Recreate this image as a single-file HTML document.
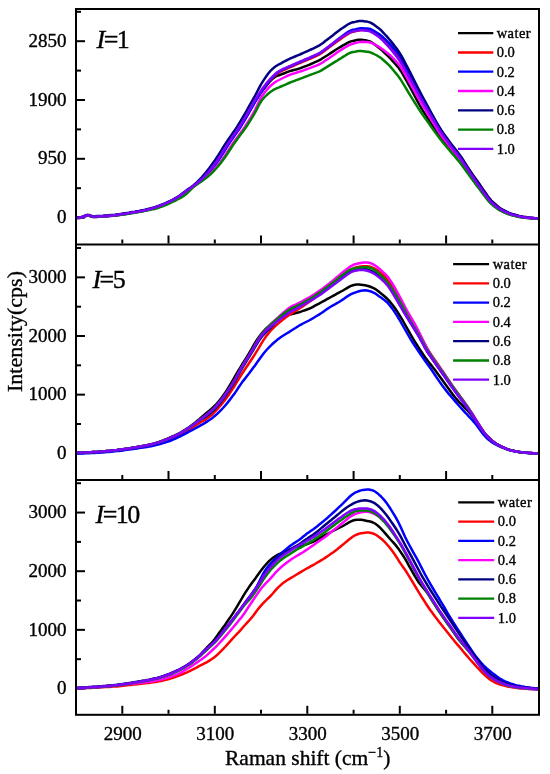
<!DOCTYPE html>
<html><head><meta charset="utf-8"><style>
html,body{margin:0;padding:0;background:#fff;}
svg{display:block;}
text{font-family:"Liberation Serif","Times New Roman",serif;fill:#000;stroke:#000;stroke-width:0.35px;}
.tl{font-size:19px;}
.lg{font-size:14.5px;}
.pl{font-size:26px;letter-spacing:-1.5px;}
.ti{font-size:21.5px;}
.ti2{font-size:22px;}
</style></head><body>
<svg width="550" height="774" viewBox="0 0 550 774">
<defs>
<clipPath id="c0"><rect x="77.0" y="10.0" width="461.0" height="233.5"/></clipPath>
<clipPath id="c1"><rect x="77.0" y="245.5" width="461.0" height="233.5"/></clipPath>
<clipPath id="c2"><rect x="77.0" y="481.0" width="461.0" height="232.8"/></clipPath>
</defs>
<g stroke="#000" stroke-width="2" fill="none">
<line x1="77" x2="85.0" y1="217.60" y2="217.60"/>
<line x1="77" x2="81.0" y1="188.20" y2="188.20"/>
<line x1="77" x2="85.0" y1="158.80" y2="158.80"/>
<line x1="77" x2="81.0" y1="129.40" y2="129.40"/>
<line x1="77" x2="85.0" y1="100.00" y2="100.00"/>
<line x1="77" x2="81.0" y1="70.60" y2="70.60"/>
<line x1="77" x2="85.0" y1="41.20" y2="41.20"/>
<line x1="77" x2="81.0" y1="11.80" y2="11.80"/>
<line x1="122.3" x2="122.3" y1="243.5" y2="239.5"/>
<line x1="168.5" x2="168.5" y1="243.5" y2="235.5"/>
<line x1="214.8" x2="214.8" y1="243.5" y2="239.5"/>
<line x1="261.0" x2="261.0" y1="243.5" y2="235.5"/>
<line x1="307.3" x2="307.3" y1="243.5" y2="239.5"/>
<line x1="353.6" x2="353.6" y1="243.5" y2="235.5"/>
<line x1="399.8" x2="399.8" y1="243.5" y2="239.5"/>
<line x1="446.1" x2="446.1" y1="243.5" y2="235.5"/>
<line x1="492.3" x2="492.3" y1="243.5" y2="239.5"/>
<line x1="77" x2="85.0" y1="453.30" y2="453.30"/>
<line x1="77" x2="81.0" y1="423.98" y2="423.98"/>
<line x1="77" x2="85.0" y1="394.65" y2="394.65"/>
<line x1="77" x2="81.0" y1="365.33" y2="365.33"/>
<line x1="77" x2="85.0" y1="336.00" y2="336.00"/>
<line x1="77" x2="81.0" y1="306.68" y2="306.68"/>
<line x1="77" x2="85.0" y1="277.35" y2="277.35"/>
<line x1="77" x2="81.0" y1="248.03" y2="248.03"/>
<line x1="122.3" x2="122.3" y1="479.0" y2="475.0"/>
<line x1="168.5" x2="168.5" y1="479.0" y2="471.0"/>
<line x1="214.8" x2="214.8" y1="479.0" y2="475.0"/>
<line x1="261.0" x2="261.0" y1="479.0" y2="471.0"/>
<line x1="307.3" x2="307.3" y1="479.0" y2="475.0"/>
<line x1="353.6" x2="353.6" y1="479.0" y2="471.0"/>
<line x1="399.8" x2="399.8" y1="479.0" y2="475.0"/>
<line x1="446.1" x2="446.1" y1="479.0" y2="471.0"/>
<line x1="492.3" x2="492.3" y1="479.0" y2="475.0"/>
<line x1="77" x2="85.0" y1="688.50" y2="688.50"/>
<line x1="77" x2="81.0" y1="659.17" y2="659.17"/>
<line x1="77" x2="85.0" y1="629.85" y2="629.85"/>
<line x1="77" x2="81.0" y1="600.52" y2="600.52"/>
<line x1="77" x2="85.0" y1="571.20" y2="571.20"/>
<line x1="77" x2="81.0" y1="541.88" y2="541.88"/>
<line x1="77" x2="85.0" y1="512.55" y2="512.55"/>
<line x1="77" x2="81.0" y1="483.23" y2="483.23"/>
<line x1="122.3" x2="122.3" y1="713.8" y2="705.8"/>
<line x1="168.5" x2="168.5" y1="713.8" y2="709.8"/>
<line x1="214.8" x2="214.8" y1="713.8" y2="705.8"/>
<line x1="261.0" x2="261.0" y1="713.8" y2="709.8"/>
<line x1="307.3" x2="307.3" y1="713.8" y2="705.8"/>
<line x1="353.6" x2="353.6" y1="713.8" y2="709.8"/>
<line x1="399.8" x2="399.8" y1="713.8" y2="705.8"/>
<line x1="446.1" x2="446.1" y1="713.8" y2="709.8"/>
<line x1="492.3" x2="492.3" y1="713.8" y2="705.8"/>
</g>
<g fill="none" stroke-width="2.5" stroke-linejoin="round" stroke-linecap="butt" clip-path="url(#c0)"><path d="M77.0,217.7 79.0,217.6 81.0,217.4 83.0,216.9 85.0,216.0 87.0,215.2 89.0,215.3 91.0,216.1 93.0,216.6 95.0,216.6 97.0,216.5 99.0,216.4 101.0,216.3 103.0,216.2 105.0,216.0 107.0,215.9 109.0,215.7 111.0,215.5 113.0,215.4 115.0,215.2 117.0,214.9 119.0,214.6 121.0,214.3 123.0,214.0 125.0,213.7 127.0,213.4 129.0,213.1 131.0,212.7 133.0,212.4 135.0,212.1 137.0,211.7 139.0,211.4 141.0,211.0 143.0,210.6 145.0,210.2 147.0,209.7 149.0,209.2 151.0,208.7 153.0,208.1 155.0,207.5 157.0,206.8 159.0,206.1 161.0,205.3 163.0,204.5 165.0,203.7 167.0,202.8 169.0,201.9 171.0,200.9 173.0,199.9 175.0,198.8 177.0,197.7 179.0,196.4 181.0,195.1 183.0,193.6 185.0,192.1 187.0,190.6 189.0,189.2 191.0,187.8 193.0,186.4 195.0,184.8 197.0,183.3 199.0,181.7 201.0,180.0 203.0,178.2 205.0,176.3 207.0,174.1 209.0,171.8 211.0,169.4 213.0,166.9 215.0,164.3 217.0,161.6 219.0,158.7 221.0,155.7 223.0,152.5 225.0,149.2 227.0,146.0 229.0,142.8 231.0,139.9 233.0,137.0 235.0,134.2 237.0,131.4 239.0,128.5 241.0,125.3 243.0,122.1 245.0,118.7 247.0,115.2 249.0,111.7 251.0,108.2 253.0,104.7 255.0,101.3 257.0,98.2 259.0,95.4 261.0,92.7 263.0,90.1 265.0,87.5 267.0,84.9 269.0,82.5 271.0,80.3 273.0,78.4 275.0,77.0 277.0,76.0 279.0,75.2 281.0,74.5 283.0,73.7 285.0,73.0 287.0,72.2 289.0,71.4 291.0,70.8 293.0,70.2 295.0,69.7 297.0,69.2 299.0,68.6 301.0,68.0 303.0,67.2 305.0,66.4 307.0,65.7 309.0,64.9 311.0,64.0 313.0,63.1 315.0,62.2 317.0,61.3 319.0,60.4 321.0,59.3 323.0,58.0 325.0,56.7 327.0,55.5 329.0,54.2 331.0,52.9 333.0,51.6 335.0,50.3 337.0,49.0 339.0,47.8 341.0,46.6 343.0,45.4 345.0,44.3 347.0,43.2 349.0,42.2 351.0,41.4 353.0,40.9 355.0,40.5 357.0,40.1 359.0,39.8 361.0,39.8 363.0,40.0 365.0,40.3 367.0,40.6 369.0,41.1 371.0,42.0 373.0,43.3 375.0,44.8 377.0,46.3 379.0,47.9 381.0,49.6 383.0,51.4 385.0,53.3 387.0,55.2 389.0,57.1 391.0,59.2 393.0,61.4 395.0,63.6 397.0,65.9 399.0,68.3 401.0,71.2 403.0,74.6 405.0,78.1 407.0,81.7 409.0,85.3 411.0,88.9 413.0,92.7 415.0,96.5 417.0,100.3 419.0,104.0 421.0,107.5 423.0,110.8 425.0,114.0 427.0,117.2 429.0,120.3 431.0,123.4 433.0,126.4 435.0,129.3 437.0,132.3 439.0,135.1 441.0,137.8 443.0,140.4 445.0,142.8 447.0,145.3 449.0,147.7 451.0,150.1 453.0,152.4 455.0,154.8 457.0,157.1 459.0,159.5 461.0,162.1 463.0,165.0 465.0,168.0 467.0,171.0 469.0,173.9 471.0,176.8 473.0,179.5 475.0,182.2 477.0,184.9 479.0,187.6 481.0,190.3 483.0,192.9 485.0,195.6 487.0,198.2 489.0,200.6 491.0,202.8 493.0,204.5 495.0,206.2 497.0,207.8 499.0,209.3 501.0,210.6 503.0,211.6 505.0,212.4 507.0,213.3 509.0,214.1 511.0,214.8 513.0,215.3 515.0,215.8 517.0,216.3 519.0,216.7 521.0,217.1 523.0,217.4 525.0,217.6 527.0,217.8 529.0,218.0 531.0,218.2 533.0,218.4 535.0,218.5 537.0,218.7 539.0,218.7" stroke="#000000"/><path d="M77.0,218.0 79.0,217.9 81.0,217.7 83.0,217.2 85.0,216.3 87.0,215.5 89.0,215.6 91.0,216.4 93.0,216.9 95.0,216.9 97.0,216.8 99.0,216.7 101.0,216.6 103.0,216.5 105.0,216.3 107.0,216.2 109.0,216.0 111.0,215.8 113.0,215.7 115.0,215.5 117.0,215.2 119.0,214.9 121.0,214.6 123.0,214.3 125.0,214.0 127.0,213.7 129.0,213.4 131.0,213.0 133.0,212.7 135.0,212.4 137.0,212.0 139.0,211.7 141.0,211.3 143.0,210.9 145.0,210.5 147.0,210.0 149.0,209.5 151.0,209.0 153.0,208.4 155.0,207.8 157.0,207.1 159.0,206.4 161.0,205.6 163.0,204.8 165.0,204.0 167.0,203.1 169.0,202.2 171.0,201.2 173.0,200.2 175.0,199.1 177.0,198.0 179.0,196.7 181.0,195.4 183.0,193.9 185.0,192.4 187.0,190.9 189.0,189.4 191.0,187.9 193.0,186.4 195.0,184.9 197.0,183.4 199.0,181.8 201.0,180.1 203.0,178.4 205.0,176.5 207.0,174.4 209.0,172.1 211.0,169.7 213.0,167.3 215.0,164.7 217.0,162.0 219.0,159.1 221.0,156.1 223.0,153.0 225.0,149.7 227.0,146.4 229.0,143.3 231.0,140.3 233.0,137.5 235.0,134.6 237.0,131.8 239.0,128.9 241.0,125.8 243.0,122.6 245.0,119.2 247.0,115.8 249.0,112.3 251.0,108.7 253.0,105.2 255.0,101.7 257.0,98.3 259.0,95.0 261.0,92.0 263.0,89.1 265.0,86.5 267.0,83.9 269.0,81.6 271.0,79.4 273.0,77.4 275.0,75.5 277.0,73.9 279.0,72.5 281.0,71.3 283.0,70.3 285.0,69.5 287.0,68.6 289.0,67.7 291.0,66.9 293.0,66.0 295.0,65.1 297.0,64.2 299.0,63.4 301.0,62.5 303.0,61.7 305.0,60.8 307.0,60.0 309.0,59.2 311.0,58.3 313.0,57.4 315.0,56.5 317.0,55.6 319.0,54.6 321.0,53.4 323.0,52.0 325.0,50.5 327.0,49.0 329.0,47.5 331.0,46.1 333.0,44.6 335.0,43.1 337.0,41.6 339.0,40.2 341.0,38.7 343.0,37.3 345.0,36.0 347.0,34.6 349.0,33.4 351.0,32.4 353.0,31.8 355.0,31.3 357.0,30.8 359.0,30.4 361.0,30.1 363.0,30.1 365.0,30.2 367.0,30.2 369.0,30.5 371.0,31.1 373.0,32.1 375.0,33.3 377.0,34.5 379.0,35.9 381.0,37.5 383.0,39.4 385.0,41.4 387.0,43.5 389.0,45.6 391.0,47.8 393.0,50.3 395.0,52.8 397.0,55.3 399.0,58.0 401.0,61.0 403.0,64.4 405.0,68.0 407.0,71.6 409.0,75.2 411.0,78.9 413.0,82.6 415.0,86.2 417.0,89.9 419.0,93.6 421.0,97.1 423.0,100.4 425.0,103.7 427.0,107.1 429.0,110.4 431.0,113.7 433.0,117.1 435.0,120.5 437.0,123.9 439.0,127.2 441.0,130.3 443.0,133.2 445.0,136.0 447.0,138.8 449.0,141.5 451.0,144.2 453.0,146.7 455.0,149.3 457.0,151.8 459.0,154.4 461.0,157.2 463.0,160.2 465.0,163.3 467.0,166.3 469.0,169.4 471.0,172.3 473.0,175.2 475.0,178.0 477.0,180.8 479.0,183.6 481.0,186.5 483.0,189.4 485.0,192.3 487.0,195.2 489.0,197.9 491.0,200.3 493.0,202.3 495.0,204.1 497.0,205.9 499.0,207.5 501.0,208.9 503.0,210.1 505.0,211.1 507.0,212.1 509.0,213.0 511.0,213.8 513.0,214.4 515.0,215.0 517.0,215.5 519.0,216.0 521.0,216.4 523.0,216.8 525.0,217.1 527.0,217.4 529.0,217.7 531.0,217.9 533.0,218.1 535.0,218.3 537.0,218.4 539.0,218.5" stroke="#ff0000"/><path d="M77.0,218.1 79.0,218.0 81.0,217.8 83.0,217.3 85.0,216.4 87.0,215.6 89.0,215.7 91.0,216.5 93.0,217.0 95.0,217.0 97.0,216.9 99.0,216.8 101.0,216.7 103.0,216.6 105.0,216.4 107.0,216.3 109.0,216.1 111.0,215.9 113.0,215.8 115.0,215.6 117.0,215.3 119.0,215.0 121.0,214.7 123.0,214.4 125.0,214.1 127.0,213.8 129.0,213.5 131.0,213.1 133.0,212.8 135.0,212.5 137.0,212.1 139.0,211.8 141.0,211.4 143.0,211.0 145.0,210.6 147.0,210.1 149.0,209.6 151.0,209.1 153.0,208.5 155.0,207.9 157.0,207.2 159.0,206.5 161.0,205.7 163.0,204.9 165.0,204.1 167.0,203.2 169.0,202.3 171.0,201.3 173.0,200.3 175.0,199.2 177.0,198.1 179.0,196.8 181.0,195.5 183.0,194.0 185.0,192.5 187.0,190.9 189.0,189.5 191.0,188.0 193.0,186.5 195.0,185.0 197.0,183.4 199.0,181.9 201.0,180.2 203.0,178.5 205.0,176.7 207.0,174.6 209.0,172.3 211.0,170.0 213.0,167.5 215.0,165.0 217.0,162.3 219.0,159.4 221.0,156.4 223.0,153.3 225.0,150.0 227.0,146.8 229.0,143.6 231.0,140.6 233.0,137.8 235.0,134.9 237.0,132.1 239.0,129.2 241.0,126.1 243.0,122.9 245.0,119.5 247.0,116.1 249.0,112.6 251.0,109.1 253.0,105.6 255.0,102.1 257.0,98.7 259.0,95.6 261.0,92.5 263.0,89.5 265.0,86.7 267.0,83.9 269.0,81.4 271.0,79.0 273.0,76.8 275.0,74.8 277.0,73.1 279.0,71.6 281.0,70.4 283.0,69.4 285.0,68.6 287.0,67.7 289.0,66.8 291.0,66.0 293.0,65.1 295.0,64.2 297.0,63.3 299.0,62.5 301.0,61.6 303.0,60.8 305.0,59.9 307.0,59.1 309.0,58.3 311.0,57.4 313.0,56.5 315.0,55.6 317.0,54.7 319.0,53.7 321.0,52.5 323.0,51.1 325.0,49.6 327.0,48.1 329.0,46.6 331.0,45.0 333.0,43.4 335.0,41.7 337.0,40.0 339.0,38.4 341.0,36.9 343.0,35.4 345.0,34.0 347.0,32.6 349.0,31.4 351.0,30.5 353.0,29.8 355.0,29.4 357.0,28.9 359.0,28.5 361.0,28.3 363.0,28.3 365.0,28.4 367.0,28.4 369.0,28.7 371.0,29.3 373.0,30.3 375.0,31.5 377.0,32.7 379.0,34.0 381.0,35.5 383.0,37.3 385.0,39.2 387.0,41.1 389.0,43.1 391.0,45.3 393.0,47.5 395.0,49.9 397.0,52.2 399.0,54.8 401.0,57.9 403.0,61.5 405.0,65.4 407.0,69.2 409.0,73.1 411.0,77.0 413.0,80.9 415.0,84.7 417.0,88.6 419.0,92.5 421.0,96.2 423.0,99.7 425.0,103.2 427.0,106.7 429.0,110.3 431.0,113.8 433.0,117.2 435.0,120.7 437.0,124.2 439.0,127.6 441.0,130.8 443.0,133.8 445.0,136.7 447.0,139.6 449.0,142.5 451.0,145.2 453.0,147.7 455.0,150.3 457.0,152.8 459.0,155.4 461.0,158.2 463.0,161.2 465.0,164.4 467.0,167.5 469.0,170.6 471.0,173.6 473.0,176.5 475.0,179.3 477.0,182.2 479.0,185.1 481.0,187.9 483.0,190.7 485.0,193.6 487.0,196.4 489.0,199.0 491.0,201.3 493.0,203.1 495.0,204.8 497.0,206.5 499.0,208.1 501.0,209.4 503.0,210.4 505.0,211.4 507.0,212.3 509.0,213.2 511.0,213.9 513.0,214.5 515.0,215.1 517.0,215.6 519.0,216.1 521.0,216.5 523.0,216.9 525.0,217.2 527.0,217.4 529.0,217.7 531.0,217.9 533.0,218.1 535.0,218.3 537.0,218.4 539.0,218.5" stroke="#0000ff"/><path d="M77.0,217.7 79.0,217.6 81.0,217.4 83.0,216.9 85.0,216.0 87.0,215.2 89.0,215.3 91.0,216.1 93.0,216.6 95.0,216.6 97.0,216.5 99.0,216.4 101.0,216.3 103.0,216.2 105.0,216.0 107.0,215.9 109.0,215.7 111.0,215.5 113.0,215.4 115.0,215.2 117.0,214.9 119.0,214.6 121.0,214.3 123.0,214.0 125.0,213.7 127.0,213.4 129.0,213.1 131.0,212.7 133.0,212.4 135.0,212.1 137.0,211.7 139.0,211.4 141.0,211.1 143.0,210.7 145.0,210.4 147.0,210.0 149.0,209.5 151.0,209.0 153.0,208.4 155.0,207.8 157.0,207.1 159.0,206.4 161.0,205.6 163.0,204.8 165.0,204.0 167.0,203.1 169.0,202.2 171.0,201.2 173.0,200.2 175.0,199.1 177.0,198.0 179.0,196.7 181.0,195.4 183.0,193.9 185.0,192.4 187.0,190.9 189.0,189.5 191.0,188.1 193.0,186.8 195.0,185.5 197.0,184.1 199.0,182.7 201.0,181.3 203.0,179.8 205.0,178.3 207.0,176.7 209.0,174.9 211.0,172.9 213.0,170.8 215.0,168.6 217.0,166.3 219.0,163.9 221.0,161.2 223.0,158.5 225.0,155.6 227.0,152.5 229.0,149.4 231.0,146.3 233.0,143.3 235.0,140.4 237.0,137.7 239.0,135.0 241.0,132.3 243.0,129.5 245.0,126.6 247.0,123.5 249.0,120.3 251.0,117.1 253.0,113.7 255.0,110.0 257.0,105.8 259.0,101.4 261.0,97.7 263.0,94.7 265.0,92.1 267.0,89.6 269.0,87.4 271.0,85.4 273.0,83.7 275.0,82.2 277.0,81.0 279.0,80.0 281.0,79.0 283.0,78.0 285.0,77.0 287.0,76.0 289.0,75.1 291.0,74.3 293.0,73.7 295.0,73.1 297.0,72.5 299.0,71.9 301.0,71.3 303.0,70.6 305.0,69.8 307.0,69.1 309.0,68.4 311.0,67.6 313.0,66.9 315.0,66.1 317.0,65.3 319.0,64.5 321.0,63.4 323.0,62.2 325.0,60.8 327.0,59.5 329.0,58.2 331.0,56.8 333.0,55.4 335.0,54.0 337.0,52.5 339.0,51.2 341.0,49.9 343.0,48.6 345.0,47.5 347.0,46.3 349.0,45.2 351.0,44.3 353.0,43.7 355.0,43.1 357.0,42.6 359.0,42.1 361.0,41.9 363.0,41.8 365.0,41.9 367.0,41.9 369.0,42.2 371.0,42.7 373.0,43.6 375.0,44.7 377.0,45.7 379.0,46.9 381.0,48.2 383.0,49.6 385.0,51.2 387.0,52.7 389.0,54.3 391.0,56.1 393.0,58.1 395.0,60.2 397.0,62.3 399.0,64.6 401.0,67.4 403.0,70.7 405.0,74.2 407.0,77.7 409.0,81.3 411.0,84.8 413.0,88.4 415.0,92.0 417.0,95.6 419.0,99.1 421.0,102.6 423.0,105.9 425.0,109.2 427.0,112.5 429.0,115.9 431.0,119.2 433.0,122.4 435.0,125.7 437.0,129.0 439.0,132.2 441.0,135.2 443.0,137.9 445.0,140.5 447.0,143.1 449.0,145.7 451.0,148.2 453.0,150.6 455.0,153.0 457.0,155.4 459.0,157.9 461.0,160.7 463.0,163.7 465.0,166.8 467.0,169.8 469.0,172.9 471.0,175.8 473.0,178.7 475.0,181.5 477.0,184.3 479.0,187.1 481.0,189.8 483.0,192.4 485.0,195.1 487.0,197.7 489.0,200.1 491.0,202.3 493.0,204.0 495.0,205.7 497.0,207.3 499.0,208.8 501.0,210.1 503.0,211.1 505.0,212.1 507.0,213.0 509.0,213.9 511.0,214.6 513.0,215.1 515.0,215.6 517.0,216.1 519.0,216.6 521.0,216.9 523.0,217.2 525.0,217.5 527.0,217.7 529.0,217.9 531.0,218.1 533.0,218.3 535.0,218.4 537.0,218.6 539.0,218.6" stroke="#ff00ff"/><path d="M77.0,217.3 79.0,217.2 81.0,217.0 83.0,216.5 85.0,215.6 87.0,214.8 89.0,214.9 91.0,215.7 93.0,216.2 95.0,216.2 97.0,216.1 99.0,216.0 101.0,215.9 103.0,215.8 105.0,215.6 107.0,215.5 109.0,215.3 111.0,215.1 113.0,215.0 115.0,214.8 117.0,214.5 119.0,214.2 121.0,213.9 123.0,213.6 125.0,213.3 127.0,213.0 129.0,212.7 131.0,212.3 133.0,212.0 135.0,211.7 137.0,211.3 139.0,211.0 141.0,210.6 143.0,210.2 145.0,209.8 147.0,209.3 149.0,208.8 151.0,208.3 153.0,207.7 155.0,207.1 157.0,206.4 159.0,205.7 161.0,204.9 163.0,204.1 165.0,203.3 167.0,202.4 169.0,201.5 171.0,200.5 173.0,199.5 175.0,198.4 177.0,197.3 179.0,196.0 181.0,194.6 183.0,193.0 185.0,191.4 187.0,189.9 189.0,188.6 191.0,187.2 193.0,185.7 195.0,184.0 197.0,182.2 199.0,180.2 201.0,178.2 203.0,175.9 205.0,173.5 207.0,171.0 209.0,168.4 211.0,165.8 213.0,163.0 215.0,160.2 217.0,157.2 219.0,154.1 221.0,150.9 223.0,147.6 225.0,144.4 227.0,141.4 229.0,138.5 231.0,135.6 233.0,132.8 235.0,129.9 237.0,126.9 239.0,123.7 241.0,120.4 243.0,117.0 245.0,113.5 247.0,110.0 249.0,106.4 251.0,102.9 253.0,99.4 255.0,95.8 257.0,92.0 259.0,88.1 261.0,84.3 263.0,81.1 265.0,78.1 267.0,75.2 269.0,72.6 271.0,70.3 273.0,68.4 275.0,66.8 277.0,65.5 279.0,64.3 281.0,63.3 283.0,62.2 285.0,61.2 287.0,60.1 289.0,59.1 291.0,58.2 293.0,57.3 295.0,56.5 297.0,55.7 299.0,54.9 301.0,54.0 303.0,53.1 305.0,52.2 307.0,51.3 309.0,50.4 311.0,49.5 313.0,48.6 315.0,47.6 317.0,46.6 319.0,45.6 321.0,44.3 323.0,42.9 325.0,41.3 327.0,39.8 329.0,38.3 331.0,36.7 333.0,35.2 335.0,33.6 337.0,32.0 339.0,30.5 341.0,29.1 343.0,27.7 345.0,26.4 347.0,25.0 349.0,23.8 351.0,22.9 353.0,22.3 355.0,21.9 357.0,21.4 359.0,21.1 361.0,21.0 363.0,21.1 365.0,21.4 367.0,21.6 369.0,22.1 371.0,22.9 373.0,24.1 375.0,25.5 377.0,26.9 379.0,28.4 381.0,30.2 383.0,32.3 385.0,34.5 387.0,36.7 389.0,39.0 391.0,41.4 393.0,43.9 395.0,46.5 397.0,49.1 399.0,51.9 401.0,55.1 403.0,58.7 405.0,62.5 407.0,66.3 409.0,70.1 411.0,74.0 413.0,78.0 415.0,82.0 417.0,86.0 419.0,89.9 421.0,93.8 423.0,97.5 425.0,101.2 427.0,104.9 429.0,108.6 431.0,112.3 433.0,115.9 435.0,119.5 437.0,123.1 439.0,126.5 441.0,129.7 443.0,132.7 445.0,135.5 447.0,138.3 449.0,141.0 451.0,143.7 453.0,146.2 455.0,148.8 457.0,151.3 459.0,153.9 461.0,156.7 463.0,159.8 465.0,163.0 467.0,166.2 469.0,169.3 471.0,172.3 473.0,175.2 475.0,178.0 477.0,180.8 479.0,183.6 481.0,186.5 483.0,189.4 485.0,192.3 487.0,195.2 489.0,197.9 491.0,200.3 493.0,202.3 495.0,204.0 497.0,205.8 499.0,207.4 501.0,208.8 503.0,209.9 505.0,210.9 507.0,211.9 509.0,212.8 511.0,213.6 513.0,214.2 515.0,214.8 517.0,215.4 519.0,215.9 521.0,216.3 523.0,216.7 525.0,217.0 527.0,217.3 529.0,217.6 531.0,217.8 533.0,218.0 535.0,218.2 537.0,218.3 539.0,218.4" stroke="#000080"/><path d="M77.0,217.9 79.0,217.8 81.0,217.6 83.0,217.1 85.0,216.2 87.0,215.4 89.0,215.5 91.0,216.3 93.0,216.8 95.0,216.8 97.0,216.7 99.0,216.6 101.0,216.5 103.0,216.4 105.0,216.2 107.0,216.1 109.0,215.9 111.0,215.7 113.0,215.6 115.0,215.4 117.0,215.2 119.0,215.0 121.0,214.7 123.0,214.5 125.0,214.3 127.0,214.0 129.0,213.7 131.0,213.3 133.0,213.0 135.0,212.7 137.0,212.3 139.0,212.0 141.0,211.6 143.0,211.2 145.0,210.8 147.0,210.4 149.0,210.0 151.0,209.6 153.0,209.3 155.0,208.9 157.0,208.3 159.0,207.6 161.0,206.9 163.0,206.2 165.0,205.4 167.0,204.5 169.0,203.6 171.0,202.7 173.0,201.7 175.0,200.8 177.0,199.7 179.0,198.7 181.0,197.6 183.0,196.5 185.0,195.1 187.0,193.3 189.0,191.3 191.0,189.3 193.0,187.4 195.0,185.8 197.0,184.4 199.0,183.0 201.0,181.7 203.0,180.3 205.0,178.8 207.0,177.3 209.0,175.6 211.0,173.8 213.0,171.8 215.0,169.7 217.0,167.5 219.0,165.2 221.0,162.8 223.0,160.1 225.0,157.3 227.0,154.4 229.0,151.3 231.0,148.2 233.0,145.1 235.0,142.2 237.0,139.4 239.0,136.7 241.0,134.1 243.0,131.4 245.0,128.6 247.0,125.7 249.0,122.6 251.0,119.4 253.0,116.1 255.0,112.7 257.0,108.9 259.0,104.9 261.0,101.5 263.0,98.8 265.0,96.7 267.0,94.8 269.0,93.0 271.0,91.5 273.0,90.2 275.0,89.2 277.0,88.2 279.0,87.4 281.0,86.5 283.0,85.6 285.0,84.8 287.0,83.9 289.0,83.0 291.0,82.2 293.0,81.4 295.0,80.7 297.0,79.9 299.0,79.2 301.0,78.4 303.0,77.7 305.0,76.9 307.0,76.1 309.0,75.4 311.0,74.6 313.0,73.9 315.0,73.1 317.0,72.4 319.0,71.6 321.0,70.6 323.0,69.4 325.0,68.1 327.0,66.9 329.0,65.6 331.0,64.4 333.0,63.1 335.0,61.9 337.0,60.7 339.0,59.4 341.0,58.2 343.0,56.9 345.0,55.7 347.0,54.4 349.0,53.3 351.0,52.5 353.0,52.0 355.0,51.7 357.0,51.3 359.0,51.1 361.0,51.0 363.0,51.2 365.0,51.4 367.0,51.7 369.0,52.0 371.0,52.6 373.0,53.5 375.0,54.5 377.0,55.5 379.0,56.7 381.0,58.1 383.0,59.7 385.0,61.5 387.0,63.3 389.0,65.2 391.0,67.4 393.0,69.7 395.0,72.2 397.0,74.6 399.0,77.2 401.0,80.1 403.0,83.3 405.0,86.7 407.0,90.0 409.0,93.3 411.0,96.6 413.0,99.8 415.0,103.0 417.0,106.2 419.0,109.3 421.0,112.3 423.0,115.2 425.0,118.0 427.0,120.8 429.0,123.6 431.0,126.4 433.0,129.2 435.0,132.0 437.0,134.8 439.0,137.5 441.0,140.1 443.0,142.6 445.0,145.0 447.0,147.4 449.0,149.8 451.0,152.1 453.0,154.4 455.0,156.8 457.0,159.1 459.0,161.4 461.0,164.0 463.0,166.7 465.0,169.5 467.0,172.3 469.0,175.1 471.0,177.8 473.0,180.5 475.0,183.2 477.0,185.9 479.0,188.6 481.0,191.3 483.0,193.9 485.0,196.6 487.0,199.2 489.0,201.6 491.0,203.7 493.0,205.4 495.0,207.0 497.0,208.5 499.0,209.9 501.0,211.0 503.0,212.0 505.0,212.8 507.0,213.7 509.0,214.4 511.0,215.1 513.0,215.6 515.0,216.0 517.0,216.5 519.0,216.9 521.0,217.2 523.0,217.5 525.0,217.7 527.0,217.9 529.0,218.1 531.0,218.3 533.0,218.5 535.0,218.6 537.0,218.8 539.0,218.8" stroke="#008000"/><path d="M77.0,217.7 79.0,217.6 81.0,217.4 83.0,216.9 85.0,216.0 87.0,215.2 89.0,215.3 91.0,216.1 93.0,216.6 95.0,216.6 97.0,216.5 99.0,216.4 101.0,216.3 103.0,216.2 105.0,216.0 107.0,215.9 109.0,215.7 111.0,215.5 113.0,215.4 115.0,215.2 117.0,214.9 119.0,214.6 121.0,214.3 123.0,214.0 125.0,213.7 127.0,213.4 129.0,213.1 131.0,212.7 133.0,212.4 135.0,212.1 137.0,211.7 139.0,211.4 141.0,211.0 143.0,210.6 145.0,210.2 147.0,209.7 149.0,209.2 151.0,208.7 153.0,208.1 155.0,207.5 157.0,206.8 159.0,206.1 161.0,205.3 163.0,204.5 165.0,203.7 167.0,202.8 169.0,201.9 171.0,200.9 173.0,199.9 175.0,198.8 177.0,197.7 179.0,196.4 181.0,195.1 183.0,193.6 185.0,192.1 187.0,190.6 189.0,189.2 191.0,187.7 193.0,186.3 195.0,184.7 197.0,183.1 199.0,181.5 201.0,179.7 203.0,177.9 205.0,175.9 207.0,173.7 209.0,171.3 211.0,168.8 213.0,166.3 215.0,163.7 217.0,160.9 219.0,157.9 221.0,154.9 223.0,151.7 225.0,148.4 227.0,145.2 229.0,142.1 231.0,139.2 233.0,136.3 235.0,133.5 237.0,130.7 239.0,127.7 241.0,124.5 243.0,121.2 245.0,117.8 247.0,114.4 249.0,110.9 251.0,107.3 253.0,103.8 255.0,100.3 257.0,96.9 259.0,93.7 261.0,90.7 263.0,87.8 265.0,85.2 267.0,82.6 269.0,80.3 271.0,78.1 273.0,76.1 275.0,74.2 277.0,72.6 279.0,71.2 281.0,70.0 283.0,69.0 285.0,68.2 287.0,67.3 289.0,66.4 291.0,65.6 293.0,64.7 295.0,63.8 297.0,62.9 299.0,62.1 301.0,61.2 303.0,60.4 305.0,59.5 307.0,58.7 309.0,57.9 311.0,57.0 313.0,56.1 315.0,55.2 317.0,54.3 319.0,53.3 321.0,52.1 323.0,50.7 325.0,49.2 327.0,47.7 329.0,46.2 331.0,44.8 333.0,43.3 335.0,41.8 337.0,40.3 339.0,38.9 341.0,37.5 343.0,36.3 345.0,35.1 347.0,33.9 349.0,32.8 351.0,32.0 353.0,31.4 355.0,31.0 357.0,30.6 359.0,30.3 361.0,30.2 363.0,30.3 365.0,30.5 367.0,30.7 369.0,31.1 371.0,31.9 373.0,33.0 375.0,34.3 377.0,35.6 379.0,37.1 381.0,38.8 383.0,40.7 385.0,42.8 387.0,44.9 389.0,47.1 391.0,49.4 393.0,51.9 395.0,54.4 397.0,57.0 399.0,59.7 401.0,62.8 403.0,66.1 405.0,69.7 407.0,73.2 409.0,76.8 411.0,80.4 413.0,84.1 415.0,87.7 417.0,91.4 419.0,95.1 421.0,98.6 423.0,102.1 425.0,105.5 427.0,108.9 429.0,112.3 431.0,115.7 433.0,119.1 435.0,122.5 437.0,125.9 439.0,129.2 441.0,132.3 443.0,135.2 445.0,138.0 447.0,140.8 449.0,143.5 451.0,146.2 453.0,148.7 455.0,151.3 457.0,153.8 459.0,156.4 461.0,159.2 463.0,162.2 465.0,165.3 467.0,168.3 469.0,171.4 471.0,174.4 473.0,177.3 475.0,180.2 477.0,183.1 479.0,186.0 481.0,188.8 483.0,191.6 485.0,194.3 487.0,197.0 489.0,199.6 491.0,201.9 493.0,203.8 495.0,205.5 497.0,207.1 499.0,208.5 501.0,209.7 503.0,210.8 505.0,211.8 507.0,212.6 509.0,213.5 511.0,214.2 513.0,214.8 515.0,215.4 517.0,215.9 519.0,216.3 521.0,216.7 523.0,217.1 525.0,217.4 527.0,217.6 529.0,217.8 531.0,218.0 533.0,218.2 535.0,218.3 537.0,218.5 539.0,218.5" stroke="#8000ff"/></g>
<g fill="none" stroke-width="2.5" stroke-linejoin="round" stroke-linecap="butt" clip-path="url(#c1)"><path d="M77.0,452.7 79.0,452.6 81.0,452.6 83.0,452.5 85.0,452.5 87.0,452.4 89.0,452.3 91.0,452.2 93.0,452.1 95.0,452.0 97.0,451.9 99.0,451.7 101.0,451.6 103.0,451.4 105.0,451.3 107.0,451.1 109.0,450.9 111.0,450.7 113.0,450.5 115.0,450.3 117.0,450.1 119.0,449.8 121.0,449.6 123.0,449.3 125.0,449.0 127.0,448.7 129.0,448.4 131.0,448.1 133.0,447.7 135.0,447.4 137.0,447.0 139.0,446.7 141.0,446.3 143.0,445.9 145.0,445.5 147.0,445.2 149.0,444.7 151.0,444.3 153.0,443.7 155.0,443.1 157.0,442.6 159.0,441.9 161.0,441.2 163.0,440.5 165.0,439.7 167.0,438.8 169.0,438.0 171.0,437.1 173.0,436.2 175.0,435.3 177.0,434.4 179.0,433.4 181.0,432.3 183.0,431.1 185.0,429.8 187.0,428.5 189.0,427.2 191.0,425.7 193.0,424.2 195.0,422.7 197.0,421.1 199.0,419.5 201.0,417.7 203.0,415.9 205.0,414.2 207.0,412.5 209.0,410.9 211.0,409.3 213.0,407.5 215.0,405.5 217.0,403.3 219.0,401.0 221.0,398.5 223.0,395.8 225.0,393.0 227.0,390.0 229.0,386.7 231.0,383.3 233.0,379.9 235.0,376.4 237.0,373.0 239.0,369.6 241.0,366.3 243.0,363.0 245.0,359.8 247.0,356.7 249.0,353.4 251.0,350.0 253.0,346.4 255.0,342.9 257.0,339.8 259.0,336.9 261.0,334.2 263.0,331.8 265.0,329.7 267.0,327.7 269.0,325.9 271.0,324.0 273.0,322.2 275.0,320.6 277.0,319.2 279.0,318.0 281.0,317.1 283.0,316.3 285.0,315.7 287.0,315.2 289.0,314.8 291.0,314.3 293.0,313.8 295.0,313.2 297.0,312.7 299.0,312.2 301.0,311.6 303.0,310.9 305.0,310.2 307.0,309.5 309.0,308.8 311.0,307.9 313.0,306.8 315.0,305.7 317.0,304.6 319.0,303.6 321.0,302.5 323.0,301.4 325.0,300.3 327.0,299.2 329.0,298.1 331.0,297.0 333.0,295.9 335.0,294.8 337.0,293.7 339.0,292.6 341.0,291.5 343.0,290.5 345.0,289.3 347.0,288.1 349.0,286.9 351.0,285.9 353.0,285.2 355.0,284.7 357.0,284.6 359.0,284.6 361.0,284.7 363.0,284.9 365.0,285.3 367.0,285.7 369.0,286.3 371.0,287.0 373.0,287.8 375.0,288.8 377.0,290.2 379.0,291.8 381.0,293.4 383.0,295.0 385.0,296.7 387.0,298.5 389.0,300.6 391.0,303.0 393.0,305.5 395.0,308.2 397.0,311.2 399.0,314.4 401.0,317.6 403.0,321.0 405.0,324.6 407.0,328.1 409.0,331.7 411.0,335.2 413.0,338.7 415.0,341.9 417.0,345.0 419.0,348.2 421.0,351.3 423.0,354.3 425.0,357.2 427.0,359.8 429.0,362.4 431.0,364.9 433.0,367.5 435.0,370.1 437.0,372.8 439.0,375.5 441.0,378.3 443.0,381.1 445.0,383.8 447.0,386.6 449.0,389.3 451.0,392.1 453.0,394.7 455.0,397.3 457.0,399.6 459.0,401.8 461.0,403.9 463.0,406.0 465.0,408.0 467.0,410.0 469.0,412.2 471.0,414.5 473.0,417.0 475.0,419.7 477.0,422.5 479.0,425.5 481.0,428.4 483.0,431.2 485.0,433.7 487.0,436.0 489.0,438.0 491.0,439.9 493.0,441.5 495.0,443.0 497.0,444.3 499.0,445.4 501.0,446.4 503.0,447.4 505.0,448.3 507.0,449.1 509.0,449.8 511.0,450.4 513.0,450.8 515.0,451.2 517.0,451.6 519.0,451.9 521.0,452.2 523.0,452.4 525.0,452.6 527.0,452.8 529.0,453.0 531.0,453.1 533.0,453.2 535.0,453.4 537.0,453.5 539.0,453.6" stroke="#000000"/><path d="M77.0,452.9 79.0,452.9 81.0,452.8 83.0,452.8 85.0,452.7 87.0,452.7 89.0,452.6 91.0,452.5 93.0,452.4 95.0,452.3 97.0,452.2 99.0,452.1 101.0,451.9 103.0,451.8 105.0,451.7 107.0,451.5 109.0,451.3 111.0,451.1 113.0,450.9 115.0,450.7 117.0,450.5 119.0,450.3 121.0,450.1 123.0,449.9 125.0,449.6 127.0,449.3 129.0,449.1 131.0,448.8 133.0,448.5 135.0,448.2 137.0,447.9 139.0,447.6 141.0,447.3 143.0,446.9 145.0,446.6 147.0,446.3 149.0,445.9 151.0,445.5 153.0,445.0 155.0,444.5 157.0,444.0 159.0,443.4 161.0,442.8 163.0,442.1 165.0,441.4 167.0,440.6 169.0,439.9 171.0,439.1 173.0,438.2 175.0,437.4 177.0,436.5 179.0,435.6 181.0,434.5 183.0,433.4 185.0,432.2 187.0,431.0 189.0,429.7 191.0,428.4 193.0,427.1 195.0,425.8 197.0,424.4 199.0,423.1 201.0,422.0 203.0,421.0 205.0,419.9 207.0,418.5 209.0,417.1 211.0,415.5 213.0,413.7 215.0,411.7 217.0,409.6 219.0,407.3 221.0,405.0 223.0,402.5 225.0,399.9 227.0,397.2 229.0,394.4 231.0,391.4 233.0,388.3 235.0,385.2 237.0,381.9 239.0,378.7 241.0,375.4 243.0,372.3 245.0,369.3 247.0,366.3 249.0,363.3 251.0,360.2 253.0,357.2 255.0,354.1 257.0,350.9 259.0,347.6 261.0,344.2 263.0,340.9 265.0,337.9 267.0,335.1 269.0,332.6 271.0,330.3 273.0,328.2 275.0,326.4 277.0,324.6 279.0,322.8 281.0,321.2 283.0,319.6 285.0,318.1 287.0,316.6 289.0,315.1 291.0,313.7 293.0,312.4 295.0,311.2 297.0,309.9 299.0,308.7 301.0,307.4 303.0,306.1 305.0,304.8 307.0,303.5 309.0,302.1 311.0,300.7 313.0,299.2 315.0,297.8 317.0,296.2 319.0,294.7 321.0,293.2 323.0,291.6 325.0,290.0 327.0,288.4 329.0,286.8 331.0,285.1 333.0,283.4 335.0,281.8 337.0,280.1 339.0,278.4 341.0,276.8 343.0,275.3 345.0,273.8 347.0,272.3 349.0,270.8 351.0,269.6 353.0,268.6 355.0,267.7 357.0,267.2 359.0,266.7 361.0,266.4 363.0,266.2 365.0,266.2 367.0,266.2 369.0,266.5 371.0,267.0 373.0,267.8 375.0,268.8 377.0,270.1 379.0,271.6 381.0,273.3 383.0,275.1 385.0,277.0 387.0,279.1 389.0,281.7 391.0,284.5 393.0,287.5 395.0,290.7 397.0,294.2 399.0,297.7 401.0,301.3 403.0,305.1 405.0,309.0 407.0,312.9 409.0,316.7 411.0,320.3 413.0,323.7 415.0,327.0 417.0,330.3 419.0,333.7 421.0,337.3 423.0,341.0 425.0,344.8 427.0,348.3 429.0,351.5 431.0,354.5 433.0,357.4 435.0,360.3 437.0,363.2 439.0,366.1 441.0,369.0 443.0,372.0 445.0,375.0 447.0,378.0 449.0,381.0 451.0,384.0 453.0,386.9 455.0,389.8 457.0,392.5 459.0,395.2 461.0,397.9 463.0,400.6 465.0,403.4 467.0,406.2 469.0,409.1 471.0,412.2 473.0,415.3 475.0,418.5 477.0,421.7 479.0,424.9 481.0,427.9 483.0,430.8 485.0,433.5 487.0,435.9 489.0,438.0 491.0,439.8 493.0,441.5 495.0,443.0 497.0,444.2 499.0,445.3 501.0,446.3 503.0,447.3 505.0,448.2 507.0,449.1 509.0,449.8 511.0,450.4 513.0,450.8 515.0,451.2 517.0,451.6 519.0,451.9 521.0,452.2 523.0,452.4 525.0,452.6 527.0,452.8 529.0,453.0 531.0,453.1 533.0,453.2 535.0,453.4 537.0,453.5 539.0,453.6" stroke="#ff0000"/><path d="M77.0,453.5 79.0,453.5 81.0,453.4 83.0,453.4 85.0,453.3 87.0,453.3 89.0,453.2 91.0,453.1 93.0,453.0 95.0,452.9 97.0,452.8 99.0,452.7 101.0,452.5 103.0,452.4 105.0,452.3 107.0,452.1 109.0,451.9 111.0,451.7 113.0,451.5 115.0,451.3 117.0,451.1 119.0,450.9 121.0,450.7 123.0,450.4 125.0,450.1 127.0,449.8 129.0,449.5 131.0,449.2 133.0,448.9 135.0,448.7 137.0,448.4 139.0,448.1 141.0,447.8 143.0,447.5 145.0,447.2 147.0,446.9 149.0,446.6 151.0,446.2 153.0,445.7 155.0,445.2 157.0,444.7 159.0,444.2 161.0,443.7 163.0,443.1 165.0,442.5 167.0,441.9 169.0,441.2 171.0,440.5 173.0,439.7 175.0,438.8 177.0,437.9 179.0,436.9 181.0,436.0 183.0,434.9 185.0,433.8 187.0,432.8 189.0,431.7 191.0,430.6 193.0,429.6 195.0,428.5 197.0,427.4 199.0,426.3 201.0,425.2 203.0,424.1 205.0,422.9 207.0,421.6 209.0,420.3 211.0,418.9 213.0,417.4 215.0,415.7 217.0,414.0 219.0,412.1 221.0,410.1 223.0,408.0 225.0,405.7 227.0,403.4 229.0,400.9 231.0,398.3 233.0,395.6 235.0,392.9 237.0,389.9 239.0,386.8 241.0,383.9 243.0,381.1 245.0,378.6 247.0,376.0 249.0,373.5 251.0,370.8 253.0,368.1 255.0,365.4 257.0,362.6 259.0,359.8 261.0,357.0 263.0,354.3 265.0,351.8 267.0,349.5 269.0,347.4 271.0,345.4 273.0,343.5 275.0,341.8 277.0,340.1 279.0,338.5 281.0,337.0 283.0,335.7 285.0,334.5 287.0,333.3 289.0,332.1 291.0,330.8 293.0,329.5 295.0,328.3 297.0,327.0 299.0,325.7 301.0,324.6 303.0,323.5 305.0,322.5 307.0,321.5 309.0,320.5 311.0,319.4 313.0,318.2 315.0,317.0 317.0,315.8 319.0,314.6 321.0,313.3 323.0,311.9 325.0,310.5 327.0,309.1 329.0,307.8 331.0,306.5 333.0,305.4 335.0,304.3 337.0,303.1 339.0,302.0 341.0,300.7 343.0,299.4 345.0,298.0 347.0,296.6 349.0,295.3 351.0,294.2 353.0,293.3 355.0,292.6 357.0,291.9 359.0,291.3 361.0,290.8 363.0,290.5 365.0,290.3 367.0,290.5 369.0,290.9 371.0,291.5 373.0,292.3 375.0,293.3 377.0,294.7 379.0,296.2 381.0,297.6 383.0,299.1 385.0,300.5 387.0,302.2 389.0,304.4 391.0,306.9 393.0,309.6 395.0,312.5 397.0,315.7 399.0,319.0 401.0,322.5 403.0,326.0 405.0,329.5 407.0,333.0 409.0,336.4 411.0,339.8 413.0,343.0 415.0,346.0 417.0,349.0 419.0,352.0 421.0,355.0 423.0,357.9 425.0,360.7 427.0,363.5 429.0,366.3 431.0,369.1 433.0,372.0 435.0,375.0 437.0,378.0 439.0,380.9 441.0,383.7 443.0,386.4 445.0,389.1 447.0,391.6 449.0,394.1 451.0,396.4 453.0,398.8 455.0,401.1 457.0,403.4 459.0,405.7 461.0,407.9 463.0,410.1 465.0,412.3 467.0,414.4 469.0,416.6 471.0,418.7 473.0,420.9 475.0,423.3 477.0,425.8 479.0,428.6 481.0,431.3 483.0,433.9 485.0,436.2 487.0,438.3 489.0,440.1 491.0,441.6 493.0,442.9 495.0,444.1 497.0,445.1 499.0,446.1 501.0,447.0 503.0,447.8 505.0,448.6 507.0,449.3 509.0,450.0 511.0,450.6 513.0,451.0 515.0,451.4 517.0,451.8 519.0,452.1 521.0,452.3 523.0,452.5 525.0,452.7 527.0,452.9 529.0,453.1 531.0,453.2 533.0,453.3 535.0,453.5 537.0,453.6 539.0,453.7" stroke="#0000ff"/><path d="M77.0,452.7 79.0,452.6 81.0,452.6 83.0,452.5 85.0,452.5 87.0,452.4 89.0,452.3 91.0,452.2 93.0,452.1 95.0,452.0 97.0,451.9 99.0,451.7 101.0,451.6 103.0,451.4 105.0,451.3 107.0,451.1 109.0,450.9 111.0,450.7 113.0,450.5 115.0,450.3 117.0,450.1 119.0,449.8 121.0,449.6 123.0,449.3 125.0,449.0 127.0,448.7 129.0,448.4 131.0,448.1 133.0,447.7 135.0,447.4 137.0,447.1 139.0,446.7 141.0,446.4 143.0,446.0 145.0,445.7 147.0,445.3 149.0,444.9 151.0,444.5 153.0,444.0 155.0,443.4 157.0,442.8 159.0,442.2 161.0,441.6 163.0,440.8 165.0,440.0 167.0,439.2 169.0,438.4 171.0,437.5 173.0,436.7 175.0,435.8 177.0,434.9 179.0,433.9 181.0,432.8 183.0,431.6 185.0,430.3 187.0,429.0 189.0,427.7 191.0,426.3 193.0,424.9 195.0,423.4 197.0,422.0 199.0,420.5 201.0,419.0 203.0,417.4 205.0,415.9 207.0,414.4 209.0,412.8 211.0,411.2 213.0,409.3 215.0,407.3 217.0,405.1 219.0,402.9 221.0,400.4 223.0,397.7 225.0,394.9 227.0,392.1 229.0,389.1 231.0,386.1 233.0,383.0 235.0,379.6 237.0,376.0 239.0,372.3 241.0,368.7 243.0,365.3 245.0,362.0 247.0,358.8 249.0,355.6 251.0,352.3 253.0,348.9 255.0,345.5 257.0,342.0 259.0,338.7 261.0,335.7 263.0,333.1 265.0,330.8 267.0,328.6 269.0,326.6 271.0,324.5 273.0,322.5 275.0,320.5 277.0,318.5 279.0,316.6 281.0,314.7 283.0,313.0 285.0,311.3 287.0,309.6 289.0,308.0 291.0,306.7 293.0,305.7 295.0,304.8 297.0,303.8 299.0,302.9 301.0,301.9 303.0,300.8 305.0,299.7 307.0,298.6 309.0,297.5 311.0,296.3 313.0,295.0 315.0,293.7 317.0,292.4 319.0,291.1 321.0,289.7 323.0,288.2 325.0,286.7 327.0,285.2 329.0,283.7 331.0,282.1 333.0,280.4 335.0,278.7 337.0,277.1 339.0,275.4 341.0,273.7 343.0,272.1 345.0,270.5 347.0,268.9 349.0,267.4 351.0,266.1 353.0,265.1 355.0,264.2 357.0,263.7 359.0,263.2 361.0,262.9 363.0,262.6 365.0,262.4 367.0,262.5 369.0,262.8 371.0,263.4 373.0,264.2 375.0,265.4 377.0,266.8 379.0,268.5 381.0,270.3 383.0,272.1 385.0,273.9 387.0,276.0 389.0,278.6 391.0,281.5 393.0,284.6 395.0,288.0 397.0,291.6 399.0,295.3 401.0,299.1 403.0,302.9 405.0,306.8 407.0,310.6 409.0,314.2 411.0,317.5 413.0,320.8 415.0,324.4 417.0,328.1 419.0,332.0 421.0,336.0 423.0,340.0 425.0,344.0 427.0,347.8 429.0,351.4 431.0,354.7 433.0,357.7 435.0,360.5 437.0,363.3 439.0,366.1 441.0,368.9 443.0,371.8 445.0,374.7 447.0,377.6 449.0,380.5 451.0,383.5 453.0,386.4 455.0,389.3 457.0,392.0 459.0,394.7 461.0,397.4 463.0,400.1 465.0,402.9 467.0,405.7 469.0,408.6 471.0,411.7 473.0,414.8 475.0,418.0 477.0,421.2 479.0,424.4 481.0,427.6 483.0,430.7 485.0,433.6 487.0,436.0 489.0,438.0 491.0,439.9 493.0,441.5 495.0,443.0 497.0,444.2 499.0,445.3 501.0,446.3 503.0,447.3 505.0,448.2 507.0,449.1 509.0,449.8 511.0,450.4 513.0,450.8 515.0,451.2 517.0,451.6 519.0,451.9 521.0,452.2 523.0,452.4 525.0,452.6 527.0,452.8 529.0,453.0 531.0,453.1 533.0,453.2 535.0,453.4 537.0,453.5 539.0,453.6" stroke="#ff00ff"/><path d="M77.0,452.7 79.0,452.6 81.0,452.6 83.0,452.5 85.0,452.5 87.0,452.4 89.0,452.3 91.0,452.2 93.0,452.1 95.0,452.0 97.0,451.9 99.0,451.7 101.0,451.6 103.0,451.4 105.0,451.3 107.0,451.1 109.0,450.9 111.0,450.7 113.0,450.5 115.0,450.3 117.0,450.1 119.0,449.8 121.0,449.6 123.0,449.3 125.0,449.0 127.0,448.7 129.0,448.4 131.0,448.1 133.0,447.7 135.0,447.4 137.0,447.1 139.0,446.7 141.0,446.4 143.0,446.0 145.0,445.7 147.0,445.3 149.0,444.9 151.0,444.5 153.0,444.0 155.0,443.4 157.0,442.8 159.0,442.2 161.0,441.6 163.0,440.8 165.0,440.0 167.0,439.2 169.0,438.4 171.0,437.5 173.0,436.7 175.0,435.8 177.0,434.9 179.0,433.9 181.0,432.8 183.0,431.6 185.0,430.3 187.0,429.0 189.0,427.7 191.0,426.3 193.0,424.9 195.0,423.4 197.0,422.0 199.0,420.6 201.0,419.4 203.0,418.3 205.0,417.2 207.0,415.8 209.0,414.3 211.0,412.7 213.0,410.8 215.0,408.8 217.0,406.6 219.0,404.4 221.0,401.9 223.0,399.2 225.0,396.4 227.0,393.6 229.0,390.6 231.0,387.6 233.0,384.5 235.0,381.1 237.0,377.5 239.0,373.8 241.0,370.2 243.0,366.8 245.0,363.5 247.0,360.4 249.0,357.2 251.0,353.9 253.0,350.6 255.0,347.2 257.0,343.8 259.0,340.6 261.0,337.7 263.0,335.3 265.0,333.2 267.0,331.2 269.0,329.3 271.0,327.3 273.0,325.3 275.0,323.2 277.0,321.2 279.0,319.3 281.0,317.5 283.0,315.9 285.0,314.5 287.0,313.0 289.0,311.6 291.0,310.3 293.0,309.2 295.0,308.1 297.0,307.0 299.0,305.9 301.0,304.8 303.0,303.7 305.0,302.6 307.0,301.5 309.0,300.3 311.0,299.2 313.0,298.0 315.0,296.8 317.0,295.6 319.0,294.3 321.0,293.0 323.0,291.5 325.0,290.0 327.0,288.6 329.0,287.1 331.0,285.6 333.0,284.1 335.0,282.6 337.0,281.1 339.0,279.6 341.0,278.1 343.0,276.6 345.0,275.1 347.0,273.6 349.0,272.2 351.0,271.0 353.0,270.2 355.0,269.5 357.0,269.2 359.0,268.9 361.0,268.8 363.0,268.9 365.0,269.0 367.0,269.5 369.0,270.1 371.0,270.9 373.0,271.9 375.0,273.0 377.0,274.5 379.0,276.0 381.0,277.7 383.0,279.5 385.0,281.4 387.0,283.6 389.0,286.3 391.0,289.4 393.0,292.7 395.0,296.2 397.0,299.7 399.0,303.4 401.0,307.0 403.0,310.5 405.0,313.8 407.0,317.0 409.0,320.3 411.0,323.5 413.0,326.8 415.0,330.0 417.0,333.3 419.0,336.7 421.0,340.3 423.0,344.0 425.0,347.8 427.0,351.2 429.0,354.3 431.0,357.1 433.0,360.0 435.0,362.9 437.0,365.7 439.0,368.6 441.0,371.4 443.0,374.3 445.0,377.1 447.0,380.0 449.0,382.9 451.0,385.7 453.0,388.5 455.0,391.3 457.0,394.0 459.0,396.7 461.0,399.3 463.0,402.0 465.0,404.7 467.0,407.4 469.0,410.1 471.0,413.0 473.0,416.0 475.0,419.1 477.0,422.2 479.0,425.3 481.0,428.3 483.0,431.2 485.0,433.7 487.0,436.0 489.0,438.0 491.0,439.9 493.0,441.5 495.0,443.0 497.0,444.2 499.0,445.3 501.0,446.3 503.0,447.3 505.0,448.2 507.0,449.1 509.0,449.8 511.0,450.4 513.0,450.8 515.0,451.2 517.0,451.6 519.0,451.9 521.0,452.2 523.0,452.4 525.0,452.6 527.0,452.8 529.0,453.0 531.0,453.1 533.0,453.2 535.0,453.4 537.0,453.5 539.0,453.6" stroke="#000080"/><path d="M77.0,452.7 79.0,452.6 81.0,452.6 83.0,452.5 85.0,452.5 87.0,452.4 89.0,452.3 91.0,452.2 93.0,452.1 95.0,452.0 97.0,451.9 99.0,451.7 101.0,451.6 103.0,451.4 105.0,451.3 107.0,451.1 109.0,450.9 111.0,450.7 113.0,450.5 115.0,450.3 117.0,450.1 119.0,449.8 121.0,449.6 123.0,449.3 125.0,449.0 127.0,448.7 129.0,448.4 131.0,448.1 133.0,447.7 135.0,447.4 137.0,447.1 139.0,446.7 141.0,446.4 143.0,446.0 145.0,445.7 147.0,445.3 149.0,444.9 151.0,444.5 153.0,444.0 155.0,443.4 157.0,442.8 159.0,442.2 161.0,441.6 163.0,440.8 165.0,440.0 167.0,439.2 169.0,438.4 171.0,437.5 173.0,436.7 175.0,435.8 177.0,434.9 179.0,433.9 181.0,432.8 183.0,431.6 185.0,430.3 187.0,429.0 189.0,427.7 191.0,426.3 193.0,424.9 195.0,423.4 197.0,422.0 199.0,420.5 201.0,419.0 203.0,417.4 205.0,415.9 207.0,414.4 209.0,412.8 211.0,411.2 213.0,409.3 215.0,407.3 217.0,405.1 219.0,402.9 221.0,400.4 223.0,397.7 225.0,394.9 227.0,392.1 229.0,389.1 231.0,386.1 233.0,383.0 235.0,379.6 237.0,376.0 239.0,372.3 241.0,368.7 243.0,365.3 245.0,362.0 247.0,358.8 249.0,355.6 251.0,352.3 253.0,348.9 255.0,345.5 257.0,342.0 259.0,338.7 261.0,335.7 263.0,333.1 265.0,330.8 267.0,328.6 269.0,326.6 271.0,324.7 273.0,322.8 275.0,321.0 277.0,319.2 279.0,317.5 281.0,315.8 283.0,314.3 285.0,312.8 287.0,311.3 289.0,309.9 291.0,308.7 293.0,307.7 295.0,306.8 297.0,305.8 299.0,304.9 301.0,303.9 303.0,302.8 305.0,301.7 307.0,300.6 309.0,299.5 311.0,298.3 313.0,297.0 315.0,295.7 317.0,294.4 319.0,293.1 321.0,291.7 323.0,290.2 325.0,288.7 327.0,287.2 329.0,285.7 331.0,284.2 333.0,282.6 335.0,281.0 337.0,279.4 339.0,277.8 341.0,276.3 343.0,274.8 345.0,273.3 347.0,271.8 349.0,270.4 351.0,269.4 353.0,268.7 355.0,268.2 357.0,267.8 359.0,267.6 361.0,267.4 363.0,267.2 365.0,267.2 367.0,267.3 369.0,267.6 371.0,268.2 373.0,269.1 375.0,270.3 377.0,271.9 379.0,273.7 381.0,275.6 383.0,277.6 385.0,279.7 387.0,282.0 389.0,284.6 391.0,287.5 393.0,290.4 395.0,293.5 397.0,296.8 399.0,300.1 401.0,303.5 403.0,307.1 405.0,310.9 407.0,314.8 409.0,318.5 411.0,322.0 413.0,325.3 415.0,328.5 417.0,331.8 419.0,335.2 421.0,338.8 423.0,342.5 425.0,346.3 427.0,349.7 429.0,352.8 431.0,355.6 433.0,358.5 435.0,361.4 437.0,364.2 439.0,367.1 441.0,369.9 443.0,372.8 445.0,375.6 447.0,378.5 449.0,381.4 451.0,384.2 453.0,387.0 455.0,389.8 457.0,392.6 459.0,395.3 461.0,398.0 463.0,400.8 465.0,403.5 467.0,406.3 469.0,409.2 471.0,412.4 473.0,415.7 475.0,418.9 477.0,422.2 479.0,425.3 481.0,428.3 483.0,431.2 485.0,433.7 487.0,436.0 489.0,438.0 491.0,439.9 493.0,441.5 495.0,443.0 497.0,444.2 499.0,445.3 501.0,446.3 503.0,447.3 505.0,448.2 507.0,449.1 509.0,449.8 511.0,450.4 513.0,450.8 515.0,451.2 517.0,451.6 519.0,451.9 521.0,452.2 523.0,452.4 525.0,452.6 527.0,452.8 529.0,453.0 531.0,453.1 533.0,453.2 535.0,453.4 537.0,453.5 539.0,453.6" stroke="#008000"/><path d="M77.0,452.7 79.0,452.6 81.0,452.6 83.0,452.5 85.0,452.5 87.0,452.4 89.0,452.3 91.0,452.2 93.0,452.1 95.0,452.0 97.0,451.9 99.0,451.7 101.0,451.6 103.0,451.4 105.0,451.3 107.0,451.1 109.0,450.9 111.0,450.7 113.0,450.5 115.0,450.3 117.0,450.1 119.0,449.8 121.0,449.6 123.0,449.3 125.0,449.0 127.0,448.7 129.0,448.4 131.0,448.1 133.0,447.7 135.0,447.4 137.0,447.1 139.0,446.7 141.0,446.4 143.0,446.0 145.0,445.7 147.0,445.3 149.0,444.9 151.0,444.5 153.0,444.0 155.0,443.4 157.0,442.8 159.0,442.2 161.0,441.6 163.0,440.8 165.0,440.0 167.0,439.2 169.0,438.4 171.0,437.5 173.0,436.7 175.0,435.8 177.0,434.9 179.0,433.9 181.0,432.8 183.0,431.6 185.0,430.3 187.0,429.0 189.0,427.7 191.0,426.3 193.0,424.9 195.0,423.4 197.0,422.0 199.0,420.5 201.0,419.0 203.0,417.4 205.0,415.9 207.0,414.4 209.0,412.8 211.0,411.2 213.0,409.3 215.0,407.3 217.0,405.1 219.0,402.9 221.0,400.4 223.0,397.7 225.0,394.9 227.0,392.1 229.0,389.1 231.0,386.1 233.0,383.0 235.0,379.6 237.0,376.0 239.0,372.3 241.0,368.7 243.0,365.3 245.0,362.0 247.0,358.9 249.0,355.7 251.0,352.4 253.0,349.1 255.0,345.7 257.0,342.3 259.0,339.1 261.0,336.2 263.0,333.8 265.0,331.7 267.0,329.7 269.0,327.9 271.0,326.2 273.0,324.6 275.0,323.1 277.0,321.6 279.0,320.1 281.0,318.6 283.0,317.1 285.0,315.7 287.0,314.2 289.0,312.8 291.0,311.5 293.0,310.4 295.0,309.3 297.0,308.2 299.0,307.1 301.0,306.0 303.0,304.9 305.0,303.8 307.0,302.7 309.0,301.5 311.0,300.4 313.0,299.2 315.0,298.0 317.0,296.8 319.0,295.5 321.0,294.2 323.0,292.7 325.0,291.2 327.0,289.8 329.0,288.3 331.0,286.8 333.0,285.3 335.0,283.8 337.0,282.3 339.0,280.8 341.0,279.3 343.0,277.8 345.0,276.3 347.0,274.8 349.0,273.4 351.0,272.2 353.0,271.4 355.0,270.7 357.0,270.4 359.0,270.1 361.0,270.0 363.0,270.1 365.0,270.2 367.0,270.7 369.0,271.3 371.0,272.1 373.0,273.1 375.0,274.2 377.0,275.7 379.0,277.2 381.0,278.9 383.0,280.7 385.0,282.6 387.0,284.8 389.0,287.5 391.0,290.6 393.0,293.9 395.0,297.2 397.0,300.5 399.0,303.9 401.0,307.2 403.0,310.5 405.0,313.8 407.0,317.0 409.0,320.3 411.0,323.5 413.0,326.8 415.0,330.0 417.0,333.3 419.0,336.7 421.0,340.3 423.0,344.0 425.0,347.8 427.0,351.2 429.0,354.3 431.0,357.1 433.0,360.0 435.0,362.9 437.0,365.7 439.0,368.6 441.0,371.4 443.0,374.3 445.0,377.1 447.0,380.0 449.0,382.9 451.0,385.7 453.0,388.5 455.0,391.3 457.0,394.0 459.0,396.7 461.0,399.3 463.0,402.0 465.0,404.7 467.0,407.4 469.0,410.1 471.0,413.0 473.0,416.0 475.0,419.1 477.0,422.2 479.0,425.3 481.0,428.3 483.0,431.2 485.0,433.7 487.0,436.0 489.0,438.0 491.0,439.9 493.0,441.5 495.0,443.0 497.0,444.2 499.0,445.3 501.0,446.3 503.0,447.3 505.0,448.2 507.0,449.1 509.0,449.8 511.0,450.4 513.0,450.8 515.0,451.2 517.0,451.6 519.0,451.9 521.0,452.2 523.0,452.4 525.0,452.6 527.0,452.8 529.0,453.0 531.0,453.1 533.0,453.2 535.0,453.4 537.0,453.5 539.0,453.6" stroke="#8000ff"/></g>
<g fill="none" stroke-width="2.5" stroke-linejoin="round" stroke-linecap="butt" clip-path="url(#c2)"><path d="M77.0,688.1 79.0,688.1 81.0,687.9 83.0,687.8 85.0,687.7 87.0,687.5 89.0,687.4 91.0,687.3 93.0,687.1 95.0,687.0 97.0,686.9 99.0,686.7 101.0,686.6 103.0,686.4 105.0,686.3 107.0,686.1 109.0,685.9 111.0,685.7 113.0,685.5 115.0,685.3 117.0,685.1 119.0,684.8 121.0,684.6 123.0,684.3 125.0,684.0 127.0,683.7 129.0,683.4 131.0,683.1 133.0,682.7 135.0,682.4 137.0,682.1 139.0,681.7 141.0,681.4 143.0,681.0 145.0,680.7 147.0,680.3 149.0,680.0 151.0,679.5 153.0,679.1 155.0,678.6 157.0,678.2 159.0,677.7 161.0,677.1 163.0,676.4 165.0,675.7 167.0,675.0 169.0,674.3 171.0,673.5 173.0,672.6 175.0,671.7 177.0,670.8 179.0,669.9 181.0,668.8 183.0,667.7 185.0,666.5 187.0,665.3 189.0,664.0 191.0,662.6 193.0,661.1 195.0,659.5 197.0,657.9 199.0,656.1 201.0,654.1 203.0,651.9 205.0,649.7 207.0,647.5 209.0,645.5 211.0,643.5 213.0,641.2 215.0,638.7 217.0,635.9 219.0,633.1 221.0,630.4 223.0,627.6 225.0,624.9 227.0,622.0 229.0,619.0 231.0,616.1 233.0,613.1 235.0,609.9 237.0,606.6 239.0,603.2 241.0,599.8 243.0,596.4 245.0,593.2 247.0,590.1 249.0,587.1 251.0,584.3 253.0,581.6 255.0,578.9 257.0,576.1 259.0,573.3 261.0,570.6 263.0,567.9 265.0,565.5 267.0,563.3 269.0,561.2 271.0,559.4 273.0,557.8 275.0,556.4 277.0,555.2 279.0,554.2 281.0,553.3 283.0,552.6 285.0,551.9 287.0,551.0 289.0,550.0 291.0,549.1 293.0,548.3 295.0,547.6 297.0,546.9 299.0,546.3 301.0,545.8 303.0,545.4 305.0,544.8 307.0,544.2 309.0,543.4 311.0,542.6 313.0,541.8 315.0,540.8 317.0,539.8 319.0,538.6 321.0,537.4 323.0,536.2 325.0,535.1 327.0,534.0 329.0,533.0 331.0,532.0 333.0,531.0 335.0,530.0 337.0,529.0 339.0,528.0 341.0,527.0 343.0,526.0 345.0,524.8 347.0,523.6 349.0,522.3 351.0,521.3 353.0,520.5 355.0,520.0 357.0,519.7 359.0,519.7 361.0,519.8 363.0,520.1 365.0,520.5 367.0,520.9 369.0,521.3 371.0,521.8 373.0,522.5 375.0,523.5 377.0,524.9 379.0,526.7 381.0,528.7 383.0,530.8 385.0,533.1 387.0,535.4 389.0,537.7 391.0,540.0 393.0,542.1 395.0,544.4 397.0,546.9 399.0,549.6 401.0,552.5 403.0,555.5 405.0,558.7 407.0,562.2 409.0,565.8 411.0,569.4 413.0,572.9 415.0,576.4 417.0,579.6 419.0,582.7 421.0,585.3 423.0,587.6 425.0,589.9 427.0,592.6 429.0,595.6 431.0,598.8 433.0,602.0 435.0,605.2 437.0,608.3 439.0,611.4 441.0,614.3 443.0,617.2 445.0,620.1 447.0,622.9 449.0,625.8 451.0,628.6 453.0,631.5 455.0,634.4 457.0,637.2 459.0,639.9 461.0,642.3 463.0,644.5 465.0,646.5 467.0,648.5 469.0,650.6 471.0,652.9 473.0,655.4 475.0,658.0 477.0,660.6 479.0,663.2 481.0,665.7 483.0,668.1 485.0,670.3 487.0,672.3 489.0,674.2 491.0,675.8 493.0,677.4 495.0,678.7 497.0,679.9 499.0,681.0 501.0,681.9 503.0,682.8 505.0,683.6 507.0,684.3 509.0,684.9 511.0,685.5 513.0,686.0 515.0,686.4 517.0,686.8 519.0,687.1 521.0,687.4 523.0,687.7 525.0,687.9 527.0,688.1 529.0,688.3 531.0,688.5 533.0,688.7 535.0,688.8 537.0,689.0 539.0,689.0" stroke="#000000"/><path d="M77.0,688.5 79.0,688.4 81.0,688.3 83.0,688.2 85.0,688.1 87.0,688.1 89.0,688.0 91.0,687.9 93.0,687.8 95.0,687.7 97.0,687.5 99.0,687.4 101.0,687.3 103.0,687.2 105.0,687.1 107.0,687.0 109.0,686.9 111.0,686.7 113.0,686.6 115.0,686.5 117.0,686.4 119.0,686.2 121.0,686.0 123.0,685.8 125.0,685.6 127.0,685.3 129.0,685.1 131.0,684.9 133.0,684.6 135.0,684.4 137.0,684.2 139.0,684.0 141.0,683.8 143.0,683.5 145.0,683.3 147.0,683.1 149.0,682.9 151.0,682.6 153.0,682.3 155.0,682.0 157.0,681.7 159.0,681.3 161.0,680.9 163.0,680.5 165.0,680.0 167.0,679.5 169.0,679.0 171.0,678.4 173.0,677.8 175.0,677.1 177.0,676.4 179.0,675.6 181.0,674.8 183.0,674.0 185.0,673.1 187.0,672.3 189.0,671.4 191.0,670.4 193.0,669.4 195.0,668.3 197.0,667.3 199.0,666.2 201.0,665.2 203.0,664.2 205.0,663.2 207.0,662.1 209.0,660.9 211.0,659.6 213.0,658.2 215.0,656.7 217.0,655.1 219.0,653.2 221.0,651.2 223.0,649.1 225.0,647.0 227.0,644.8 229.0,642.6 231.0,640.4 233.0,638.2 235.0,636.0 237.0,633.9 239.0,631.8 241.0,629.6 243.0,627.3 245.0,625.0 247.0,622.8 249.0,620.7 251.0,618.4 253.0,616.0 255.0,613.2 257.0,610.5 259.0,607.9 261.0,605.6 263.0,603.4 265.0,601.3 267.0,599.4 269.0,597.5 271.0,595.5 273.0,593.2 275.0,590.9 277.0,588.7 279.0,586.7 281.0,584.8 283.0,583.1 285.0,581.7 287.0,580.3 289.0,579.1 291.0,577.9 293.0,576.7 295.0,575.5 297.0,574.3 299.0,573.1 301.0,571.9 303.0,570.7 305.0,569.5 307.0,568.4 309.0,567.3 311.0,566.2 313.0,565.1 315.0,564.0 317.0,562.8 319.0,561.6 321.0,560.4 323.0,559.2 325.0,557.9 327.0,556.6 329.0,555.2 331.0,553.8 333.0,552.4 335.0,550.9 337.0,549.4 339.0,547.8 341.0,546.2 343.0,544.6 345.0,542.9 347.0,541.2 349.0,539.5 351.0,537.9 353.0,536.5 355.0,535.3 357.0,534.5 359.0,533.8 361.0,533.3 363.0,532.9 365.0,532.7 367.0,532.5 369.0,532.6 371.0,532.9 373.0,533.5 375.0,534.3 377.0,535.5 379.0,536.9 381.0,538.5 383.0,540.3 385.0,542.2 387.0,544.5 389.0,546.8 391.0,549.3 393.0,552.0 395.0,554.8 397.0,557.9 399.0,561.2 401.0,564.1 403.0,566.9 405.0,569.8 407.0,572.8 409.0,576.1 411.0,579.4 413.0,582.7 415.0,586.0 417.0,589.3 419.0,592.6 421.0,595.9 423.0,599.0 425.0,602.1 427.0,605.2 429.0,608.2 431.0,611.1 433.0,613.8 435.0,616.5 437.0,619.1 439.0,621.7 441.0,624.2 443.0,626.7 445.0,629.2 447.0,631.7 449.0,634.2 451.0,636.7 453.0,639.2 455.0,641.7 457.0,644.1 459.0,646.4 461.0,648.8 463.0,651.2 465.0,653.6 467.0,655.9 469.0,658.2 471.0,660.5 473.0,662.7 475.0,664.9 477.0,667.1 479.0,669.2 481.0,671.3 483.0,673.4 485.0,675.4 487.0,677.1 489.0,678.7 491.0,680.2 493.0,681.4 495.0,682.5 497.0,683.4 499.0,684.2 501.0,684.8 503.0,685.4 505.0,685.9 507.0,686.4 509.0,686.8 511.0,687.1 513.0,687.4 515.0,687.7 517.0,687.9 519.0,688.2 521.0,688.4 523.0,688.5 525.0,688.7 527.0,688.8 529.0,688.9 531.0,689.0 533.0,689.1 535.0,689.2 537.0,689.3 539.0,689.4" stroke="#ff0000"/><path d="M77.0,688.4 79.0,688.4 81.0,688.2 83.0,688.1 85.0,688.0 87.0,687.8 89.0,687.7 91.0,687.6 93.0,687.4 95.0,687.3 97.0,687.2 99.0,687.0 101.0,686.9 103.0,686.7 105.0,686.6 107.0,686.4 109.0,686.2 111.0,686.0 113.0,685.8 115.0,685.6 117.0,685.4 119.0,685.1 121.0,684.9 123.0,684.6 125.0,684.3 127.0,684.0 129.0,683.7 131.0,683.4 133.0,683.0 135.0,682.7 137.0,682.4 139.0,682.0 141.0,681.7 143.0,681.3 145.0,681.0 147.0,680.6 149.0,680.3 151.0,679.8 153.0,679.4 155.0,678.9 157.0,678.5 159.0,678.0 161.0,677.4 163.0,676.7 165.0,676.0 167.0,675.3 169.0,674.6 171.0,673.8 173.0,672.9 175.0,672.0 177.0,671.1 179.0,670.2 181.0,669.1 183.0,668.0 185.0,666.8 187.0,665.6 189.0,664.3 191.0,662.9 193.0,661.4 195.0,659.8 197.0,658.2 199.0,656.5 201.0,654.7 203.0,652.8 205.0,650.9 207.0,649.0 209.0,647.2 211.0,645.4 213.0,643.5 215.0,641.6 217.0,639.4 219.0,637.0 221.0,634.6 223.0,632.1 225.0,629.7 227.0,627.2 229.0,624.7 231.0,622.1 233.0,619.4 235.0,616.8 237.0,614.1 239.0,611.5 241.0,608.8 243.0,606.0 245.0,603.3 247.0,600.6 249.0,598.0 251.0,595.4 253.0,592.6 255.0,589.6 257.0,586.0 259.0,582.0 261.0,578.0 263.0,574.2 265.0,570.6 267.0,567.7 269.0,565.3 271.0,563.1 273.0,561.0 275.0,559.1 277.0,557.2 279.0,555.4 281.0,553.6 283.0,551.8 285.0,550.1 287.0,548.4 289.0,546.8 291.0,545.3 293.0,543.9 295.0,542.6 297.0,541.3 299.0,540.0 301.0,538.5 303.0,536.8 305.0,535.2 307.0,533.6 309.0,532.2 311.0,530.8 313.0,529.4 315.0,527.9 317.0,526.4 319.0,524.8 321.0,523.2 323.0,521.6 325.0,519.9 327.0,518.2 329.0,516.4 331.0,514.6 333.0,512.8 335.0,511.0 337.0,509.1 339.0,507.2 341.0,505.3 343.0,503.4 345.0,501.4 347.0,499.3 349.0,497.3 351.0,495.5 353.0,494.0 355.0,492.7 357.0,491.8 359.0,491.0 361.0,490.4 363.0,489.9 365.0,489.7 367.0,489.5 369.0,489.6 371.0,489.9 373.0,490.5 375.0,491.5 377.0,492.9 379.0,494.6 381.0,496.5 383.0,498.6 385.0,500.9 387.0,503.6 389.0,506.5 391.0,509.6 393.0,512.8 395.0,516.2 397.0,519.7 399.0,523.5 401.0,527.7 403.0,532.3 405.0,536.7 407.0,540.7 409.0,544.5 411.0,548.2 413.0,551.8 415.0,555.3 417.0,558.9 419.0,562.7 421.0,566.6 423.0,570.5 425.0,574.4 427.0,578.0 429.0,581.6 431.0,585.1 433.0,588.5 435.0,591.9 437.0,595.2 439.0,598.5 441.0,601.8 443.0,605.1 445.0,608.5 447.0,612.0 449.0,615.4 451.0,618.6 453.0,621.8 455.0,624.9 457.0,628.1 459.0,631.2 461.0,634.3 463.0,637.4 465.0,640.5 467.0,643.5 469.0,646.5 471.0,649.5 473.0,652.4 475.0,655.2 477.0,657.7 479.0,660.2 481.0,662.6 483.0,664.8 485.0,666.8 487.0,668.6 489.0,670.3 491.0,671.9 493.0,673.6 495.0,675.1 497.0,676.6 499.0,678.0 501.0,679.2 503.0,680.3 505.0,681.3 507.0,682.1 509.0,683.0 511.0,683.7 513.0,684.3 515.0,684.9 517.0,685.4 519.0,685.8 521.0,686.2 523.0,686.5 525.0,686.9 527.0,687.2 529.0,687.5 531.0,687.8 533.0,688.0 535.0,688.3 537.0,688.5 539.0,688.7" stroke="#0000ff"/><path d="M77.0,688.3 79.0,688.3 81.0,688.1 83.0,688.0 85.0,687.9 87.0,687.7 89.0,687.6 91.0,687.5 93.0,687.3 95.0,687.2 97.0,687.1 99.0,686.9 101.0,686.8 103.0,686.6 105.0,686.5 107.0,686.3 109.0,686.1 111.0,685.9 113.0,685.7 115.0,685.5 117.0,685.3 119.0,685.1 121.0,684.9 123.0,684.7 125.0,684.5 127.0,684.3 129.0,684.1 131.0,683.9 133.0,683.7 135.0,683.5 137.0,683.2 139.0,683.0 141.0,682.8 143.0,682.5 145.0,682.3 147.0,682.1 149.0,681.8 151.0,681.5 153.0,681.2 155.0,680.8 157.0,680.5 159.0,680.1 161.0,679.6 163.0,679.1 165.0,678.5 167.0,677.9 169.0,677.3 171.0,676.6 173.0,675.8 175.0,675.1 177.0,674.3 179.0,673.4 181.0,672.4 183.0,671.3 185.0,670.1 187.0,668.9 189.0,667.7 191.0,666.4 193.0,665.1 195.0,663.7 197.0,662.4 199.0,661.0 201.0,659.7 203.0,658.3 205.0,656.8 207.0,655.1 209.0,653.2 211.0,651.4 213.0,649.5 215.0,647.6 217.0,645.6 219.0,643.5 221.0,641.4 223.0,639.2 225.0,636.9 227.0,634.6 229.0,632.3 231.0,629.9 233.0,627.5 235.0,625.1 237.0,622.7 239.0,620.3 241.0,617.9 243.0,615.2 245.0,612.4 247.0,609.3 249.0,606.3 251.0,603.3 253.0,600.3 255.0,597.3 257.0,594.4 259.0,591.5 261.0,588.8 263.0,586.3 265.0,584.1 267.0,582.0 269.0,580.1 271.0,577.9 273.0,575.6 275.0,573.2 277.0,571.1 279.0,569.1 281.0,567.3 283.0,565.6 285.0,564.0 287.0,562.4 289.0,560.9 291.0,559.5 293.0,558.2 295.0,557.0 297.0,555.8 299.0,554.6 301.0,553.4 303.0,552.2 305.0,550.9 307.0,549.6 309.0,548.2 311.0,546.8 313.0,545.4 315.0,544.0 317.0,542.6 319.0,541.2 321.0,539.8 323.0,538.4 325.0,536.9 327.0,535.4 329.0,533.8 331.0,532.2 333.0,530.6 335.0,529.0 337.0,527.4 339.0,525.8 341.0,524.2 343.0,522.6 345.0,520.9 347.0,519.2 349.0,517.6 351.0,516.2 353.0,515.1 355.0,514.2 357.0,513.4 359.0,512.8 361.0,512.3 363.0,512.0 365.0,511.7 367.0,511.8 369.0,512.0 371.0,512.5 373.0,513.3 375.0,514.2 377.0,515.5 379.0,516.8 381.0,518.3 383.0,520.0 385.0,521.8 387.0,524.0 389.0,526.5 391.0,529.3 393.0,532.3 395.0,535.4 397.0,538.5 399.0,541.6 401.0,544.9 403.0,548.4 405.0,552.0 407.0,555.6 409.0,559.3 411.0,563.0 413.0,566.8 415.0,570.6 417.0,574.4 419.0,578.1 421.0,581.6 423.0,585.0 425.0,588.2 427.0,591.4 429.0,594.6 431.0,597.8 433.0,601.0 435.0,604.2 437.0,607.3 439.0,610.4 441.0,613.3 443.0,616.2 445.0,619.1 447.0,621.9 449.0,624.8 451.0,627.6 453.0,630.5 455.0,633.4 457.0,636.2 459.0,639.0 461.0,641.6 463.0,644.1 465.0,646.5 467.0,648.9 469.0,651.4 471.0,654.0 473.0,656.7 475.0,659.5 477.0,662.3 479.0,665.0 481.0,667.6 483.0,670.1 485.0,672.3 487.0,674.3 489.0,676.1 491.0,677.6 493.0,678.9 495.0,680.1 497.0,681.2 499.0,682.2 501.0,683.1 503.0,684.0 505.0,684.7 507.0,685.4 509.0,685.9 511.0,686.4 513.0,686.8 515.0,687.2 517.0,687.6 519.0,687.9 521.0,688.1 523.0,688.3 525.0,688.5 527.0,688.7 529.0,688.9 531.0,689.0 533.0,689.2 535.0,689.3 537.0,689.5 539.0,689.5" stroke="#ff00ff"/><path d="M77.0,687.8 79.0,687.8 81.0,687.6 83.0,687.5 85.0,687.4 87.0,687.2 89.0,687.1 91.0,687.0 93.0,686.8 95.0,686.7 97.0,686.6 99.0,686.4 101.0,686.3 103.0,686.1 105.0,686.0 107.0,685.8 109.0,685.6 111.0,685.4 113.0,685.2 115.0,685.0 117.0,684.8 119.0,684.5 121.0,684.3 123.0,684.0 125.0,683.7 127.0,683.4 129.0,683.1 131.0,682.8 133.0,682.4 135.0,682.1 137.0,681.8 139.0,681.4 141.0,681.1 143.0,680.7 145.0,680.4 147.0,680.0 149.0,679.7 151.0,679.2 153.0,678.8 155.0,678.3 157.0,677.9 159.0,677.4 161.0,676.8 163.0,676.1 165.0,675.4 167.0,674.7 169.0,674.0 171.0,673.2 173.0,672.3 175.0,671.4 177.0,670.5 179.0,669.6 181.0,668.5 183.0,667.4 185.0,666.2 187.0,665.0 189.0,663.7 191.0,662.3 193.0,660.8 195.0,659.2 197.0,657.6 199.0,655.9 201.0,654.1 203.0,652.2 205.0,650.3 207.0,648.4 209.0,646.6 211.0,644.8 213.0,642.9 215.0,641.0 217.0,638.8 219.0,636.4 221.0,634.0 223.0,631.5 225.0,629.1 227.0,626.6 229.0,624.1 231.0,621.5 233.0,618.8 235.0,616.2 237.0,613.5 239.0,610.9 241.0,608.2 243.0,605.4 245.0,602.7 247.0,600.0 249.0,597.4 251.0,594.8 253.0,592.1 255.0,589.3 257.0,586.4 259.0,583.3 261.0,580.2 263.0,577.1 265.0,574.0 267.0,571.2 269.0,568.5 271.0,565.8 273.0,563.3 275.0,560.9 277.0,559.0 279.0,557.3 281.0,555.7 283.0,554.1 285.0,552.7 287.0,551.3 289.0,550.1 291.0,548.9 293.0,547.7 295.0,546.6 297.0,545.5 299.0,544.4 301.0,543.1 303.0,541.6 305.0,540.1 307.0,538.7 309.0,537.4 311.0,536.1 313.0,534.8 315.0,533.3 317.0,531.8 319.0,530.1 321.0,528.4 323.0,526.7 325.0,525.0 327.0,523.4 329.0,521.8 331.0,520.2 333.0,518.6 335.0,517.0 337.0,515.3 339.0,513.6 341.0,511.9 343.0,510.2 345.0,508.7 347.0,507.3 349.0,506.0 351.0,504.8 353.0,503.7 355.0,502.7 357.0,501.9 359.0,501.3 361.0,500.8 363.0,500.5 365.0,500.3 367.0,500.5 369.0,500.9 371.0,501.5 373.0,502.3 375.0,503.4 377.0,504.9 379.0,506.7 381.0,508.7 383.0,510.9 385.0,513.2 387.0,515.8 389.0,518.6 391.0,521.4 393.0,524.2 395.0,527.2 397.0,530.3 399.0,533.6 401.0,537.2 403.0,541.0 405.0,544.8 407.0,548.5 409.0,552.1 411.0,555.7 413.0,559.4 415.0,563.1 417.0,566.9 419.0,570.6 421.0,574.3 423.0,577.8 425.0,581.2 427.0,584.5 429.0,587.8 431.0,591.0 433.0,594.2 435.0,597.3 437.0,600.4 439.0,603.5 441.0,606.6 443.0,609.5 445.0,612.5 447.0,615.5 449.0,618.5 451.0,621.5 453.0,624.5 455.0,627.5 457.0,630.5 459.0,633.5 461.0,636.5 463.0,639.5 465.0,642.4 467.0,645.3 469.0,648.1 471.0,650.9 473.0,653.7 475.0,656.5 477.0,659.3 479.0,662.0 481.0,664.6 483.0,667.1 485.0,669.3 487.0,671.3 489.0,673.1 491.0,674.8 493.0,676.2 495.0,677.6 497.0,678.9 499.0,680.1 501.0,681.2 503.0,682.2 505.0,683.0 507.0,683.8 509.0,684.5 511.0,685.1 513.0,685.6 515.0,686.0 517.0,686.4 519.0,686.7 521.0,687.0 523.0,687.3 525.0,687.6 527.0,687.8 529.0,688.0 531.0,688.3 533.0,688.5 535.0,688.6 537.0,688.8 539.0,688.9" stroke="#000080"/><path d="M77.0,688.3 79.0,688.3 81.0,688.1 83.0,688.0 85.0,687.9 87.0,687.7 89.0,687.6 91.0,687.5 93.0,687.3 95.0,687.2 97.0,687.1 99.0,686.9 101.0,686.8 103.0,686.6 105.0,686.5 107.0,686.3 109.0,686.1 111.0,685.9 113.0,685.7 115.0,685.5 117.0,685.3 119.0,685.0 121.0,684.8 123.0,684.5 125.0,684.2 127.0,683.9 129.0,683.6 131.0,683.3 133.0,682.9 135.0,682.6 137.0,682.3 139.0,681.9 141.0,681.6 143.0,681.2 145.0,680.9 147.0,680.5 149.0,680.2 151.0,679.8 153.0,679.3 155.0,678.9 157.0,678.5 159.0,678.0 161.0,677.4 163.0,676.8 165.0,676.1 167.0,675.5 169.0,674.8 171.0,674.0 173.0,673.1 175.0,672.3 177.0,671.4 179.0,670.5 181.0,669.4 183.0,668.3 185.0,667.2 187.0,666.0 189.0,664.7 191.0,663.4 193.0,661.8 195.0,660.3 197.0,658.7 199.0,657.1 201.0,655.3 203.0,653.4 205.0,651.5 207.0,649.7 209.0,647.9 211.0,646.1 213.0,644.2 215.0,642.3 217.0,640.2 219.0,637.8 221.0,635.4 223.0,633.0 225.0,630.5 227.0,628.1 229.0,625.6 231.0,623.1 233.0,620.4 235.0,617.8 237.0,615.1 239.0,612.5 241.0,609.8 243.0,607.0 245.0,604.5 247.0,602.2 249.0,600.1 251.0,597.7 253.0,595.1 255.0,592.3 257.0,589.4 259.0,586.4 261.0,583.3 263.0,580.1 265.0,577.2 267.0,574.4 269.0,571.9 271.0,569.5 273.0,567.3 275.0,565.3 277.0,563.4 279.0,561.6 281.0,559.9 283.0,558.5 285.0,557.1 287.0,555.8 289.0,554.6 291.0,553.3 293.0,551.9 295.0,550.7 297.0,549.5 299.0,548.5 301.0,547.4 303.0,546.2 305.0,545.0 307.0,543.8 309.0,542.6 311.0,541.4 313.0,540.2 315.0,538.9 317.0,537.6 319.0,536.2 321.0,534.8 323.0,533.4 325.0,532.0 327.0,530.5 329.0,529.0 331.0,527.5 333.0,526.0 335.0,524.5 337.0,523.1 339.0,521.6 341.0,520.2 343.0,518.7 345.0,517.3 347.0,516.0 349.0,514.7 351.0,513.4 353.0,512.3 355.0,511.4 357.0,510.9 359.0,510.6 361.0,510.5 363.0,510.4 365.0,510.4 367.0,510.6 369.0,510.9 371.0,511.5 373.0,512.3 375.0,513.4 377.0,514.9 379.0,516.6 381.0,518.5 383.0,520.6 385.0,522.7 387.0,525.2 389.0,527.7 391.0,530.4 393.0,533.2 395.0,536.1 397.0,539.0 399.0,542.1 401.0,545.4 403.0,548.9 405.0,552.5 407.0,556.1 409.0,559.8 411.0,563.5 413.0,567.3 415.0,571.1 417.0,574.9 419.0,578.6 421.0,582.1 423.0,585.5 425.0,588.7 427.0,591.9 429.0,595.1 431.0,598.3 433.0,601.5 435.0,604.7 437.0,607.8 439.0,610.9 441.0,613.8 443.0,616.7 445.0,619.6 447.0,622.4 449.0,625.3 451.0,628.1 453.0,631.0 455.0,633.9 457.0,636.7 459.0,639.5 461.0,642.1 463.0,644.6 465.0,647.0 467.0,649.4 469.0,651.8 471.0,654.3 473.0,656.8 475.0,659.4 477.0,662.1 479.0,664.8 481.0,667.4 483.0,669.9 485.0,672.1 487.0,674.1 489.0,675.9 491.0,677.4 493.0,678.7 495.0,679.9 497.0,681.0 499.0,682.0 501.0,682.9 503.0,683.8 505.0,684.5 507.0,685.2 509.0,685.7 511.0,686.2 513.0,686.6 515.0,687.0 517.0,687.4 519.0,687.7 521.0,687.9 523.0,688.1 525.0,688.3 527.0,688.5 529.0,688.7 531.0,688.8 533.0,689.0 535.0,689.1 537.0,689.3 539.0,689.3" stroke="#008000"/><path d="M77.0,688.1 79.0,688.1 81.0,687.9 83.0,687.8 85.0,687.7 87.0,687.5 89.0,687.4 91.0,687.3 93.0,687.1 95.0,687.0 97.0,686.9 99.0,686.7 101.0,686.6 103.0,686.4 105.0,686.3 107.0,686.1 109.0,685.9 111.0,685.7 113.0,685.5 115.0,685.3 117.0,685.1 119.0,684.8 121.0,684.6 123.0,684.3 125.0,684.0 127.0,683.7 129.0,683.4 131.0,683.1 133.0,682.7 135.0,682.4 137.0,682.1 139.0,681.7 141.0,681.4 143.0,681.0 145.0,680.7 147.0,680.3 149.0,680.0 151.0,679.5 153.0,679.1 155.0,678.6 157.0,678.2 159.0,677.7 161.0,677.1 163.0,676.4 165.0,675.7 167.0,675.0 169.0,674.3 171.0,673.5 173.0,672.6 175.0,671.7 177.0,670.8 179.0,669.9 181.0,668.8 183.0,667.7 185.0,666.5 187.0,665.3 189.0,664.0 191.0,662.6 193.0,661.1 195.0,659.5 197.0,657.9 199.0,656.2 201.0,654.4 203.0,652.5 205.0,650.6 207.0,648.7 209.0,646.9 211.0,645.1 213.0,643.2 215.0,641.3 217.0,639.1 219.0,636.7 221.0,634.3 223.0,631.8 225.0,629.4 227.0,626.9 229.0,624.4 231.0,621.8 233.0,619.1 235.0,616.5 237.0,613.8 239.0,611.2 241.0,608.5 243.0,605.7 245.0,603.0 247.0,600.3 249.0,597.7 251.0,595.1 253.0,592.4 255.0,589.6 257.0,586.7 259.0,583.6 261.0,580.5 263.0,577.4 265.0,574.3 267.0,571.6 269.0,569.0 271.0,566.6 273.0,564.4 275.0,562.3 277.0,560.4 279.0,558.6 281.0,556.9 283.0,555.5 285.0,554.1 287.0,552.8 289.0,551.6 291.0,550.3 293.0,548.9 295.0,547.7 297.0,546.5 299.0,545.5 301.0,544.4 303.0,543.2 305.0,542.0 307.0,540.8 309.0,539.6 311.0,538.4 313.0,537.2 315.0,535.9 317.0,534.6 319.0,533.2 321.0,531.8 323.0,530.4 325.0,529.0 327.0,527.5 329.0,526.0 331.0,524.5 333.0,523.0 335.0,521.5 337.0,520.1 339.0,518.6 341.0,517.2 343.0,515.7 345.0,514.3 347.0,513.0 349.0,511.8 351.0,510.7 353.0,509.9 355.0,509.2 357.0,508.9 359.0,508.6 361.0,508.5 363.0,508.4 365.0,508.4 367.0,508.6 369.0,508.9 371.0,509.5 373.0,510.3 375.0,511.4 377.0,512.9 379.0,514.6 381.0,516.5 383.0,518.6 385.0,520.7 387.0,523.2 389.0,525.8 391.0,528.7 393.0,531.8 395.0,534.9 397.0,538.0 399.0,541.1 401.0,544.4 403.0,547.9 405.0,551.5 407.0,555.1 409.0,558.8 411.0,562.5 413.0,566.3 415.0,570.1 417.0,573.9 419.0,577.6 421.0,581.1 423.0,584.5 425.0,587.7 427.0,590.9 429.0,594.1 431.0,597.3 433.0,600.5 435.0,603.7 437.0,606.8 439.0,609.9 441.0,612.8 443.0,615.7 445.0,618.6 447.0,621.4 449.0,624.3 451.0,627.1 453.0,630.0 455.0,632.9 457.0,635.7 459.0,638.5 461.0,641.1 463.0,643.6 465.0,646.0 467.0,648.4 469.0,650.9 471.0,653.5 473.0,656.2 475.0,659.0 477.0,661.8 479.0,664.5 481.0,667.1 483.0,669.6 485.0,671.8 487.0,673.8 489.0,675.6 491.0,677.1 493.0,678.4 495.0,679.6 497.0,680.7 499.0,681.7 501.0,682.6 503.0,683.5 505.0,684.2 507.0,684.9 509.0,685.4 511.0,685.9 513.0,686.3 515.0,686.7 517.0,687.1 519.0,687.4 521.0,687.6 523.0,687.8 525.0,688.0 527.0,688.2 529.0,688.4 531.0,688.5 533.0,688.7 535.0,688.8 537.0,689.0 539.0,689.0" stroke="#8000ff"/></g>
<g stroke="#000" stroke-width="2" fill="none">
<rect x="76" y="9.0" width="463" height="705.8"/>
<line x1="76" x2="539" y1="244.5" y2="244.5"/>
<line x1="76" x2="539" y1="480.0" y2="480.0"/>
</g>
<text x="66.5" y="223.2" text-anchor="end" class="tl">0</text>
<text x="66.5" y="164.4" text-anchor="end" class="tl">950</text>
<text x="66.5" y="105.6" text-anchor="end" class="tl">1900</text>
<text x="66.5" y="46.8" text-anchor="end" class="tl">2850</text>
<line x1="458.0" x2="493.3" y1="33.2" y2="33.2" stroke="#000000" stroke-width="2.3"/>
<text x="496.7" y="38.0" class="lg" letter-spacing="0.45">water</text>
<line x1="458.0" x2="493.3" y1="52.5" y2="52.5" stroke="#ff0000" stroke-width="2.3"/>
<text x="496.7" y="57.3" class="lg">0.0</text>
<line x1="458.0" x2="493.3" y1="71.7" y2="71.7" stroke="#0000ff" stroke-width="2.3"/>
<text x="496.7" y="76.5" class="lg">0.2</text>
<line x1="458.0" x2="493.3" y1="91.0" y2="91.0" stroke="#ff00ff" stroke-width="2.3"/>
<text x="496.7" y="95.8" class="lg">0.4</text>
<line x1="458.0" x2="493.3" y1="110.3" y2="110.3" stroke="#000080" stroke-width="2.3"/>
<text x="496.7" y="115.1" class="lg">0.6</text>
<line x1="458.0" x2="493.3" y1="129.6" y2="129.6" stroke="#008000" stroke-width="2.3"/>
<text x="496.7" y="134.4" class="lg">0.8</text>
<line x1="458.0" x2="493.3" y1="148.8" y2="148.8" stroke="#8000ff" stroke-width="2.3"/>
<text x="496.7" y="153.6" class="lg">1.0</text>
<text x="96.5" y="47.8" class="pl"><tspan font-style="italic">I</tspan>=1</text>
<text x="66.5" y="458.9" text-anchor="end" class="tl">0</text>
<text x="66.5" y="400.3" text-anchor="end" class="tl">1000</text>
<text x="66.5" y="341.6" text-anchor="end" class="tl">2000</text>
<text x="66.5" y="283.0" text-anchor="end" class="tl">3000</text>
<line x1="453.1" x2="489.1" y1="264.1" y2="264.1" stroke="#000000" stroke-width="2.3"/>
<text x="492.7" y="268.9" class="lg" letter-spacing="0.45">water</text>
<line x1="453.1" x2="489.1" y1="283.4" y2="283.4" stroke="#ff0000" stroke-width="2.3"/>
<text x="492.7" y="288.2" class="lg">0.0</text>
<line x1="453.1" x2="489.1" y1="302.6" y2="302.6" stroke="#0000ff" stroke-width="2.3"/>
<text x="492.7" y="307.4" class="lg">0.2</text>
<line x1="453.1" x2="489.1" y1="321.9" y2="321.9" stroke="#ff00ff" stroke-width="2.3"/>
<text x="492.7" y="326.7" class="lg">0.4</text>
<line x1="453.1" x2="489.1" y1="341.2" y2="341.2" stroke="#000080" stroke-width="2.3"/>
<text x="492.7" y="346.0" class="lg">0.6</text>
<line x1="453.1" x2="489.1" y1="360.5" y2="360.5" stroke="#008000" stroke-width="2.3"/>
<text x="492.7" y="365.3" class="lg">0.8</text>
<line x1="453.1" x2="489.1" y1="379.7" y2="379.7" stroke="#8000ff" stroke-width="2.3"/>
<text x="492.7" y="384.5" class="lg">1.0</text>
<text x="92.4" y="287.8" class="pl"><tspan font-style="italic">I</tspan>=5</text>
<text x="66.5" y="694.1" text-anchor="end" class="tl">0</text>
<text x="66.5" y="635.5" text-anchor="end" class="tl">1000</text>
<text x="66.5" y="576.8" text-anchor="end" class="tl">2000</text>
<text x="66.5" y="518.1" text-anchor="end" class="tl">3000</text>
<line x1="458.2" x2="494.2" y1="502.3" y2="502.3" stroke="#000000" stroke-width="2.3"/>
<text x="497.8" y="507.1" class="lg" letter-spacing="0.45">water</text>
<line x1="458.2" x2="494.2" y1="521.6" y2="521.6" stroke="#ff0000" stroke-width="2.3"/>
<text x="497.8" y="526.4" class="lg">0.0</text>
<line x1="458.2" x2="494.2" y1="540.8" y2="540.8" stroke="#0000ff" stroke-width="2.3"/>
<text x="497.8" y="545.6" class="lg">0.2</text>
<line x1="458.2" x2="494.2" y1="560.1" y2="560.1" stroke="#ff00ff" stroke-width="2.3"/>
<text x="497.8" y="564.9" class="lg">0.4</text>
<line x1="458.2" x2="494.2" y1="579.4" y2="579.4" stroke="#000080" stroke-width="2.3"/>
<text x="497.8" y="584.2" class="lg">0.6</text>
<line x1="458.2" x2="494.2" y1="598.6" y2="598.6" stroke="#008000" stroke-width="2.3"/>
<text x="497.8" y="603.4" class="lg">0.8</text>
<line x1="458.2" x2="494.2" y1="617.9" y2="617.9" stroke="#8000ff" stroke-width="2.3"/>
<text x="497.8" y="622.7" class="lg">1.0</text>
<text x="95.5" y="523.2" class="pl"><tspan font-style="italic">I</tspan>=10</text>
<text x="122.8" y="740.4" text-anchor="middle" class="tl">2900</text>
<text x="215.3" y="740.4" text-anchor="middle" class="tl">3100</text>
<text x="307.8" y="740.4" text-anchor="middle" class="tl">3300</text>
<text x="400.3" y="740.4" text-anchor="middle" class="tl">3500</text>
<text x="492.8" y="740.4" text-anchor="middle" class="tl">3700</text>
<text x="225" y="765.4" class="ti">Raman shift (cm<tspan dy="-8" font-size="14">−1</tspan><tspan dy="8">)</tspan></text>
<text transform="translate(22,392) rotate(-90)" class="ti2">Intensity(cps)</text>
</svg>
</body></html>
